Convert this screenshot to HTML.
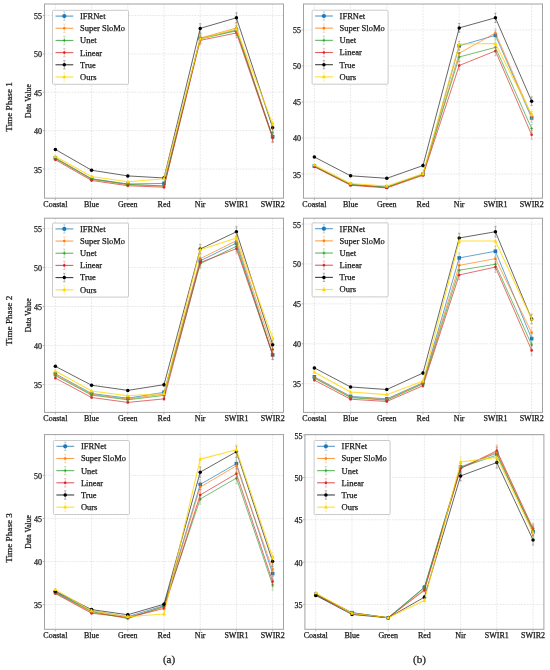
<!DOCTYPE html><html><head><meta charset="utf-8"><style>html,body{margin:0;padding:0;background:#fff;width:550px;height:670px;overflow:hidden}svg{display:block;will-change:transform;filter:blur(0.3px)}text{font-family:"Liberation Serif",serif;fill:#1a1a1a;stroke:#1a1a1a;stroke-width:0.25px}</style></head><body>
<svg width="550" height="670" viewBox="0 0 550 670">
<rect width="550" height="670" fill="#fff"/>
<path d="M55.36 4V198.2M91.58 4V198.2M127.79 4V198.2M164 4V198.2M200.21 4V198.2M236.42 4V198.2M272.64 4V198.2M44.5 169H283.5M44.5 130.62H283.5M44.5 92.25H283.5M44.5 53.88H283.5M44.5 15.5H283.5" stroke="#d6d6d6" stroke-width="0.6" stroke-dasharray="1.8,1.2" fill="none"/>
<polyline points="55.36,157.87 91.58,178.75 127.79,183.97 164,183.43 200.21,38.53 236.42,30.08 272.64,136.61" stroke="#1f77b4" stroke-width="0.9" stroke-opacity="0.75" fill="none" stroke-linejoin="round"/>
<g stroke="#1f77b4" stroke-width="0.7" opacity="0.42" fill="none"><path d="M55.36 156.95V158.79"/><path d="M54.16 156.95h2.4M54.16 158.79h2.4"/></g>
<rect x="53.56" y="156.07" width="3.6" height="3.6" fill="#1f77b4"/>
<g stroke="#1f77b4" stroke-width="0.7" opacity="0.42" fill="none"><path d="M91.58 177.83V179.67"/><path d="M90.38 177.83h2.4M90.38 179.67h2.4"/></g>
<rect x="89.78" y="176.95" width="3.6" height="3.6" fill="#1f77b4"/>
<g stroke="#1f77b4" stroke-width="0.7" opacity="0.42" fill="none"><path d="M127.79 183.05V184.89"/><path d="M126.59 183.05h2.4M126.59 184.89h2.4"/></g>
<rect x="125.99" y="182.17" width="3.6" height="3.6" fill="#1f77b4"/>
<g stroke="#1f77b4" stroke-width="0.7" opacity="0.42" fill="none"><path d="M164 181.89V184.96"/><path d="M162.8 181.89h2.4M162.8 184.96h2.4"/></g>
<rect x="162.2" y="181.63" width="3.6" height="3.6" fill="#1f77b4"/>
<g stroke="#1f77b4" stroke-width="0.7" opacity="0.42" fill="none"><path d="M200.21 33.92V43.13"/><path d="M199.01 33.92h2.4M199.01 43.13h2.4"/></g>
<rect x="198.41" y="36.73" width="3.6" height="3.6" fill="#1f77b4"/>
<g stroke="#1f77b4" stroke-width="0.7" opacity="0.42" fill="none"><path d="M236.42 25.09V35.07"/><path d="M235.22 25.09h2.4M235.22 35.07h2.4"/></g>
<rect x="234.62" y="28.28" width="3.6" height="3.6" fill="#1f77b4"/>
<g stroke="#1f77b4" stroke-width="0.7" opacity="0.42" fill="none"><path d="M272.64 132.01V141.22"/><path d="M271.44 132.01h2.4M271.44 141.22h2.4"/></g>
<rect x="270.84" y="134.81" width="3.6" height="3.6" fill="#1f77b4"/>
<polyline points="55.36,158.26 91.58,179.36 127.79,184.73 164,186.04 200.21,38.14 236.42,28.01 272.64,137.53" stroke="#ff7f0e" stroke-width="0.9" stroke-opacity="0.75" fill="none" stroke-linejoin="round"/>
<g stroke="#ff7f0e" stroke-width="0.7" opacity="0.42" fill="none"><path d="M55.36 157.33V159.18"/><path d="M54.16 157.33h2.4M54.16 159.18h2.4"/></g>
<circle cx="55.36" cy="158.26" r="1.3" fill="#ff7f0e"/>
<g stroke="#ff7f0e" stroke-width="0.7" opacity="0.42" fill="none"><path d="M91.58 178.44V180.28"/><path d="M90.38 178.44h2.4M90.38 180.28h2.4"/></g>
<circle cx="91.58" cy="179.36" r="1.3" fill="#ff7f0e"/>
<g stroke="#ff7f0e" stroke-width="0.7" opacity="0.42" fill="none"><path d="M127.79 183.81V185.65"/><path d="M126.59 183.81h2.4M126.59 185.65h2.4"/></g>
<circle cx="127.79" cy="184.73" r="1.3" fill="#ff7f0e"/>
<g stroke="#ff7f0e" stroke-width="0.7" opacity="0.42" fill="none"><path d="M164 184.5V187.57"/><path d="M162.8 184.5h2.4M162.8 187.57h2.4"/></g>
<circle cx="164" cy="186.04" r="1.3" fill="#ff7f0e"/>
<g stroke="#ff7f0e" stroke-width="0.7" opacity="0.42" fill="none"><path d="M200.21 33.54V42.75"/><path d="M199.01 33.54h2.4M199.01 42.75h2.4"/></g>
<circle cx="200.21" cy="38.14" r="1.3" fill="#ff7f0e"/>
<g stroke="#ff7f0e" stroke-width="0.7" opacity="0.42" fill="none"><path d="M236.42 23.02V33"/><path d="M235.22 23.02h2.4M235.22 33h2.4"/></g>
<circle cx="236.42" cy="28.01" r="1.3" fill="#ff7f0e"/>
<g stroke="#ff7f0e" stroke-width="0.7" opacity="0.42" fill="none"><path d="M272.64 132.93V142.14"/><path d="M271.44 132.93h2.4M271.44 142.14h2.4"/></g>
<circle cx="272.64" cy="137.53" r="1.3" fill="#ff7f0e"/>
<polyline points="55.36,158.64 91.58,178.98 127.79,184.35 164,185.89 200.21,38.91 236.42,30.85 272.64,137.15" stroke="#2ca02c" stroke-width="0.9" stroke-opacity="0.75" fill="none" stroke-linejoin="round"/>
<g stroke="#2ca02c" stroke-width="0.7" opacity="0.42" fill="none"><path d="M55.36 157.72V159.56"/><path d="M54.16 157.72h2.4M54.16 159.56h2.4"/></g>
<path d="M53.86 158.64h3M55.36 157.14v3" stroke="#2ca02c" stroke-width="0.8" fill="none"/>
<g stroke="#2ca02c" stroke-width="0.7" opacity="0.42" fill="none"><path d="M91.58 178.06V179.9"/><path d="M90.38 178.06h2.4M90.38 179.9h2.4"/></g>
<path d="M90.08 178.98h3M91.58 177.48v3" stroke="#2ca02c" stroke-width="0.8" fill="none"/>
<g stroke="#2ca02c" stroke-width="0.7" opacity="0.42" fill="none"><path d="M127.79 183.43V185.27"/><path d="M126.59 183.43h2.4M126.59 185.27h2.4"/></g>
<path d="M126.29 184.35h3M127.79 182.85v3" stroke="#2ca02c" stroke-width="0.8" fill="none"/>
<g stroke="#2ca02c" stroke-width="0.7" opacity="0.42" fill="none"><path d="M164 184.35V187.42"/><path d="M162.8 184.35h2.4M162.8 187.42h2.4"/></g>
<path d="M162.5 185.89h3M164 184.39v3" stroke="#2ca02c" stroke-width="0.8" fill="none"/>
<g stroke="#2ca02c" stroke-width="0.7" opacity="0.42" fill="none"><path d="M200.21 34.3V43.51"/><path d="M199.01 34.3h2.4M199.01 43.51h2.4"/></g>
<path d="M198.71 38.91h3M200.21 37.41v3" stroke="#2ca02c" stroke-width="0.8" fill="none"/>
<g stroke="#2ca02c" stroke-width="0.7" opacity="0.42" fill="none"><path d="M236.42 25.86V35.84"/><path d="M235.22 25.86h2.4M235.22 35.84h2.4"/></g>
<path d="M234.92 30.85h3M236.42 29.35v3" stroke="#2ca02c" stroke-width="0.8" fill="none"/>
<g stroke="#2ca02c" stroke-width="0.7" opacity="0.42" fill="none"><path d="M272.64 132.54V141.75"/><path d="M271.44 132.54h2.4M271.44 141.75h2.4"/></g>
<path d="M271.14 137.15h3M272.64 135.65v3" stroke="#2ca02c" stroke-width="0.8" fill="none"/>
<polyline points="55.36,159.79 91.58,180.51 127.79,185.73 164,187.19 200.21,40.37 236.42,33 272.64,137.99" stroke="#d62728" stroke-width="0.9" stroke-opacity="0.75" fill="none" stroke-linejoin="round"/>
<g stroke="#d62728" stroke-width="0.7" opacity="0.42" fill="none"><path d="M55.36 158.87V160.71"/><path d="M54.16 158.87h2.4M54.16 160.71h2.4"/></g>
<circle cx="55.36" cy="159.79" r="1.3" fill="#d62728"/>
<g stroke="#d62728" stroke-width="0.7" opacity="0.42" fill="none"><path d="M91.58 179.59V181.43"/><path d="M90.38 179.59h2.4M90.38 181.43h2.4"/></g>
<circle cx="91.58" cy="180.51" r="1.3" fill="#d62728"/>
<g stroke="#d62728" stroke-width="0.7" opacity="0.42" fill="none"><path d="M127.79 184.81V186.65"/><path d="M126.59 184.81h2.4M126.59 186.65h2.4"/></g>
<circle cx="127.79" cy="185.73" r="1.3" fill="#d62728"/>
<g stroke="#d62728" stroke-width="0.7" opacity="0.42" fill="none"><path d="M164 185.65V188.72"/><path d="M162.8 185.65h2.4M162.8 188.72h2.4"/></g>
<circle cx="164" cy="187.19" r="1.3" fill="#d62728"/>
<g stroke="#d62728" stroke-width="0.7" opacity="0.42" fill="none"><path d="M200.21 35.76V44.97"/><path d="M199.01 35.76h2.4M199.01 44.97h2.4"/></g>
<circle cx="200.21" cy="40.37" r="1.3" fill="#d62728"/>
<g stroke="#d62728" stroke-width="0.7" opacity="0.42" fill="none"><path d="M236.42 28.01V37.99"/><path d="M235.22 28.01h2.4M235.22 37.99h2.4"/></g>
<circle cx="236.42" cy="33" r="1.3" fill="#d62728"/>
<g stroke="#d62728" stroke-width="0.7" opacity="0.42" fill="none"><path d="M272.64 133.39V142.6"/><path d="M271.44 133.39h2.4M271.44 142.6h2.4"/></g>
<circle cx="272.64" cy="137.99" r="1.3" fill="#d62728"/>
<polyline points="55.36,149.43 91.58,170.23 127.79,175.91 164,177.98 200.21,28.39 236.42,17.8 272.64,127.63" stroke="#000000" stroke-width="0.75" stroke-opacity="0.8" fill="none" stroke-linejoin="round"/>
<g stroke="#000000" stroke-width="0.7" opacity="0.42" fill="none"><path d="M55.36 148.51V150.35"/><path d="M54.16 148.51h2.4M54.16 150.35h2.4"/></g>
<circle cx="55.36" cy="149.43" r="1.75" fill="#000000"/>
<g stroke="#000000" stroke-width="0.7" opacity="0.42" fill="none"><path d="M91.58 169.31V171.15"/><path d="M90.38 169.31h2.4M90.38 171.15h2.4"/></g>
<circle cx="91.58" cy="170.23" r="1.75" fill="#000000"/>
<g stroke="#000000" stroke-width="0.7" opacity="0.42" fill="none"><path d="M127.79 174.99V176.83"/><path d="M126.59 174.99h2.4M126.59 176.83h2.4"/></g>
<circle cx="127.79" cy="175.91" r="1.75" fill="#000000"/>
<g stroke="#000000" stroke-width="0.7" opacity="0.42" fill="none"><path d="M164 176.44V179.51"/><path d="M162.8 176.44h2.4M162.8 179.51h2.4"/></g>
<circle cx="164" cy="177.98" r="1.75" fill="#000000"/>
<g stroke="#000000" stroke-width="0.7" opacity="0.42" fill="none"><path d="M200.21 23.79V33"/><path d="M199.01 23.79h2.4M199.01 33h2.4"/></g>
<circle cx="200.21" cy="28.39" r="1.75" fill="#000000"/>
<g stroke="#000000" stroke-width="0.7" opacity="0.42" fill="none"><path d="M236.42 12.81V22.79"/><path d="M235.22 12.81h2.4M235.22 22.79h2.4"/></g>
<circle cx="236.42" cy="17.8" r="1.75" fill="#000000"/>
<g stroke="#000000" stroke-width="0.7" opacity="0.42" fill="none"><path d="M272.64 123.03V132.24"/><path d="M271.44 123.03h2.4M271.44 132.24h2.4"/></g>
<circle cx="272.64" cy="127.63" r="1.75" fill="#000000"/>
<polyline points="55.36,156.49 91.58,176.52 127.79,181.82 164,178.67 200.21,38.99 236.42,29.01 272.64,123.87" stroke="#ffd700" stroke-width="1.05" stroke-opacity="0.8" fill="none" stroke-linejoin="round"/>
<g stroke="#ffd700" stroke-width="0.7" opacity="0.42" fill="none"><path d="M55.36 155.57V157.41"/><path d="M54.16 155.57h2.4M54.16 157.41h2.4"/></g>
<path d="M55.36 154.29L57.26 157.89H53.46Z" fill="#ffd700" fill-opacity="0.95"/>
<g stroke="#ffd700" stroke-width="0.7" opacity="0.42" fill="none"><path d="M91.58 175.6V177.44"/><path d="M90.38 175.6h2.4M90.38 177.44h2.4"/></g>
<path d="M91.58 174.32L93.48 177.92H89.68Z" fill="#ffd700" fill-opacity="0.95"/>
<g stroke="#ffd700" stroke-width="0.7" opacity="0.42" fill="none"><path d="M127.79 180.9V182.74"/><path d="M126.59 180.9h2.4M126.59 182.74h2.4"/></g>
<path d="M127.79 179.62L129.69 183.22H125.89Z" fill="#ffd700" fill-opacity="0.95"/>
<g stroke="#ffd700" stroke-width="0.7" opacity="0.42" fill="none"><path d="M164 177.14V180.21"/><path d="M162.8 177.14h2.4M162.8 180.21h2.4"/></g>
<path d="M164 176.47L165.9 180.07H162.1Z" fill="#ffd700" fill-opacity="0.95"/>
<g stroke="#ffd700" stroke-width="0.7" opacity="0.42" fill="none"><path d="M200.21 34.38V43.59"/><path d="M199.01 34.38h2.4M199.01 43.59h2.4"/></g>
<path d="M200.21 36.79L202.11 40.39H198.31Z" fill="#ffd700" fill-opacity="0.95"/>
<g stroke="#ffd700" stroke-width="0.7" opacity="0.42" fill="none"><path d="M236.42 24.02V34"/><path d="M235.22 24.02h2.4M235.22 34h2.4"/></g>
<path d="M236.42 26.81L238.32 30.41H234.52Z" fill="#ffd700" fill-opacity="0.95"/>
<g stroke="#ffd700" stroke-width="0.7" opacity="0.42" fill="none"><path d="M272.64 119.27V128.48"/><path d="M271.44 119.27h2.4M271.44 128.48h2.4"/></g>
<path d="M272.64 121.67L274.54 125.27H270.74Z" fill="#ffd700" fill-opacity="0.95"/>
<rect x="44.5" y="4" width="239" height="194.2" stroke="#a2a2a2" stroke-width="1" fill="none"/>
<text x="42.1" y="172.5" font-size="8.0" text-anchor="end">35</text>
<text x="42.1" y="134.12" font-size="8.0" text-anchor="end">40</text>
<text x="42.1" y="95.75" font-size="8.0" text-anchor="end">45</text>
<text x="42.1" y="57.38" font-size="8.0" text-anchor="end">50</text>
<text x="42.1" y="19" font-size="8.0" text-anchor="end">55</text>
<text x="55.36" y="206.6" font-size="8.0" text-anchor="middle">Coastal</text>
<text x="91.58" y="206.6" font-size="8.0" text-anchor="middle">Blue</text>
<text x="127.79" y="206.6" font-size="8.0" text-anchor="middle">Green</text>
<text x="164" y="206.6" font-size="8.0" text-anchor="middle">Red</text>
<text x="200.21" y="206.6" font-size="8.0" text-anchor="middle">Nir</text>
<text x="236.42" y="206.6" font-size="8.0" text-anchor="middle">SWIR1</text>
<text x="272.64" y="206.6" font-size="8.0" text-anchor="middle">SWIR2</text>
<path d="M42.7 169H44.5M42.7 130.62H44.5M42.7 92.25H44.5M42.7 53.88H44.5M42.7 15.5H44.5M55.36 198.2V200.2M91.58 198.2V200.2M127.79 198.2V200.2M164 198.2V200.2M200.21 198.2V200.2M236.42 198.2V200.2M272.64 198.2V200.2" stroke="#a2a2a2" stroke-width="0.8" fill="none"/>
<text transform="translate(31 101.1) rotate(-90)" font-size="7.7" text-anchor="middle">Data Value</text>
<rect x="52.5" y="10.3" width="76" height="74" rx="1" fill="#fff" stroke="#c4c4c4" stroke-width="0.9"/>
<path d="M55.5 16.1H73.3" stroke="#1f77b4" stroke-width="1.1" stroke-opacity="0.75"/>
<g stroke="#1f77b4" stroke-width="0.7" opacity="0.42" fill="none"><path d="M64.3 11.9V20.3"/><path d="M63.1 11.9h2.4M63.1 20.3h2.4"/></g>
<circle cx="64.3" cy="16.1" r="2.1" fill="#1f77b4"/>
<text x="80" y="19" font-size="8.5">IFRNet</text>
<path d="M55.5 28.27H73.3" stroke="#ff7f0e" stroke-width="1.1" stroke-opacity="0.75"/>
<g stroke="#ff7f0e" stroke-width="0.7" opacity="0.42" fill="none"><path d="M64.3 24.07V32.47"/><path d="M63.1 24.07h2.4M63.1 32.47h2.4"/></g>
<circle cx="64.3" cy="28.27" r="1.3" fill="#ff7f0e"/>
<text x="80" y="31.17" font-size="8.5">Super SloMo</text>
<path d="M55.5 40.44H73.3" stroke="#2ca02c" stroke-width="1.1" stroke-opacity="0.75"/>
<g stroke="#2ca02c" stroke-width="0.7" opacity="0.42" fill="none"><path d="M64.3 36.24V44.64"/><path d="M63.1 36.24h2.4M63.1 44.64h2.4"/></g>
<path d="M62.8 40.44h3M64.3 38.94v3" stroke="#2ca02c" stroke-width="0.8" fill="none"/>
<text x="80" y="43.34" font-size="8.5">Unet</text>
<path d="M55.5 52.61H73.3" stroke="#d62728" stroke-width="1.1" stroke-opacity="0.75"/>
<g stroke="#d62728" stroke-width="0.7" opacity="0.42" fill="none"><path d="M64.3 48.41V56.81"/><path d="M63.1 48.41h2.4M63.1 56.81h2.4"/></g>
<circle cx="64.3" cy="52.61" r="1.3" fill="#d62728"/>
<text x="80" y="55.51" font-size="8.5">Linear</text>
<path d="M55.5 64.78H73.3" stroke="#000000" stroke-width="1.1" stroke-opacity="0.75"/>
<g stroke="#000000" stroke-width="0.7" opacity="0.42" fill="none"><path d="M64.3 60.58V68.98"/><path d="M63.1 60.58h2.4M63.1 68.98h2.4"/></g>
<circle cx="64.3" cy="64.78" r="1.75" fill="#000000"/>
<text x="80" y="67.68" font-size="8.5">True</text>
<path d="M55.5 76.95H73.3" stroke="#ffd700" stroke-width="1.2" stroke-opacity="0.75"/>
<g stroke="#ffd700" stroke-width="0.7" opacity="0.42" fill="none"><path d="M64.3 72.75V81.15"/><path d="M63.1 72.75h2.4M63.1 81.15h2.4"/></g>
<path d="M64.3 74.75L66.2 78.35H62.4Z" fill="#ffd700" fill-opacity="0.95"/>
<text x="80" y="79.85" font-size="8.5">Ours</text>
<path d="M314.36 4V198.2M350.58 4V198.2M386.79 4V198.2M423 4V198.2M459.21 4V198.2M495.42 4V198.2M531.64 4V198.2M303.5 174H542.5M303.5 137.97H542.5M303.5 101.95H542.5M303.5 65.92H542.5M303.5 29.9H542.5" stroke="#d6d6d6" stroke-width="0.6" stroke-dasharray="1.8,1.2" fill="none"/>
<polyline points="314.36,166.07 350.58,184.45 386.79,186.97 423,174.36 459.21,45.82 495.42,35.3 531.64,117.95" stroke="#1f77b4" stroke-width="0.9" stroke-opacity="0.75" fill="none" stroke-linejoin="round"/>
<g stroke="#1f77b4" stroke-width="0.7" opacity="0.42" fill="none"><path d="M314.36 165.21V166.94"/><path d="M313.16 165.21h2.4M313.16 166.94h2.4"/></g>
<rect x="312.56" y="164.27" width="3.6" height="3.6" fill="#1f77b4"/>
<g stroke="#1f77b4" stroke-width="0.7" opacity="0.42" fill="none"><path d="M350.58 183.58V185.31"/><path d="M349.38 183.58h2.4M349.38 185.31h2.4"/></g>
<rect x="348.78" y="182.65" width="3.6" height="3.6" fill="#1f77b4"/>
<g stroke="#1f77b4" stroke-width="0.7" opacity="0.42" fill="none"><path d="M386.79 186.1V187.83"/><path d="M385.59 186.1h2.4M385.59 187.83h2.4"/></g>
<rect x="384.99" y="185.17" width="3.6" height="3.6" fill="#1f77b4"/>
<g stroke="#1f77b4" stroke-width="0.7" opacity="0.42" fill="none"><path d="M423 172.92V175.8"/><path d="M421.8 172.92h2.4M421.8 175.8h2.4"/></g>
<rect x="421.2" y="172.56" width="3.6" height="3.6" fill="#1f77b4"/>
<g stroke="#1f77b4" stroke-width="0.7" opacity="0.42" fill="none"><path d="M459.21 41.5V50.15"/><path d="M458.01 41.5h2.4M458.01 50.15h2.4"/></g>
<rect x="457.41" y="44.02" width="3.6" height="3.6" fill="#1f77b4"/>
<g stroke="#1f77b4" stroke-width="0.7" opacity="0.42" fill="none"><path d="M495.42 30.62V39.99"/><path d="M494.22 30.62h2.4M494.22 39.99h2.4"/></g>
<rect x="493.62" y="33.5" width="3.6" height="3.6" fill="#1f77b4"/>
<g stroke="#1f77b4" stroke-width="0.7" opacity="0.42" fill="none"><path d="M531.64 113.62V122.27"/><path d="M530.44 113.62h2.4M530.44 122.27h2.4"/></g>
<rect x="529.84" y="116.15" width="3.6" height="3.6" fill="#1f77b4"/>
<polyline points="314.36,166.43 350.58,184.81 386.79,187.33 423,174.72 459.21,53.24 495.42,33 531.64,115.93" stroke="#ff7f0e" stroke-width="0.9" stroke-opacity="0.75" fill="none" stroke-linejoin="round"/>
<g stroke="#ff7f0e" stroke-width="0.7" opacity="0.42" fill="none"><path d="M314.36 165.57V167.3"/><path d="M313.16 165.57h2.4M313.16 167.3h2.4"/></g>
<circle cx="314.36" cy="166.43" r="1.3" fill="#ff7f0e"/>
<g stroke="#ff7f0e" stroke-width="0.7" opacity="0.42" fill="none"><path d="M350.58 183.94V185.67"/><path d="M349.38 183.94h2.4M349.38 185.67h2.4"/></g>
<circle cx="350.58" cy="184.81" r="1.3" fill="#ff7f0e"/>
<g stroke="#ff7f0e" stroke-width="0.7" opacity="0.42" fill="none"><path d="M386.79 186.46V188.19"/><path d="M385.59 186.46h2.4M385.59 188.19h2.4"/></g>
<circle cx="386.79" cy="187.33" r="1.3" fill="#ff7f0e"/>
<g stroke="#ff7f0e" stroke-width="0.7" opacity="0.42" fill="none"><path d="M423 173.28V176.16"/><path d="M421.8 173.28h2.4M421.8 176.16h2.4"/></g>
<circle cx="423" cy="174.72" r="1.3" fill="#ff7f0e"/>
<g stroke="#ff7f0e" stroke-width="0.7" opacity="0.42" fill="none"><path d="M459.21 48.92V57.57"/><path d="M458.01 48.92h2.4M458.01 57.57h2.4"/></g>
<circle cx="459.21" cy="53.24" r="1.3" fill="#ff7f0e"/>
<g stroke="#ff7f0e" stroke-width="0.7" opacity="0.42" fill="none"><path d="M495.42 28.31V37.68"/><path d="M494.22 28.31h2.4M494.22 37.68h2.4"/></g>
<circle cx="495.42" cy="33" r="1.3" fill="#ff7f0e"/>
<g stroke="#ff7f0e" stroke-width="0.7" opacity="0.42" fill="none"><path d="M531.64 111.6V120.25"/><path d="M530.44 111.6h2.4M530.44 120.25h2.4"/></g>
<circle cx="531.64" cy="115.93" r="1.3" fill="#ff7f0e"/>
<polyline points="314.36,166.07 350.58,184.45 386.79,187.33 423,174 459.21,56.99 495.42,47.41 531.64,128.61" stroke="#2ca02c" stroke-width="0.9" stroke-opacity="0.75" fill="none" stroke-linejoin="round"/>
<g stroke="#2ca02c" stroke-width="0.7" opacity="0.42" fill="none"><path d="M314.36 165.21V166.94"/><path d="M313.16 165.21h2.4M313.16 166.94h2.4"/></g>
<path d="M312.86 166.07h3M314.36 164.57v3" stroke="#2ca02c" stroke-width="0.8" fill="none"/>
<g stroke="#2ca02c" stroke-width="0.7" opacity="0.42" fill="none"><path d="M350.58 183.58V185.31"/><path d="M349.38 183.58h2.4M349.38 185.31h2.4"/></g>
<path d="M349.08 184.45h3M350.58 182.95v3" stroke="#2ca02c" stroke-width="0.8" fill="none"/>
<g stroke="#2ca02c" stroke-width="0.7" opacity="0.42" fill="none"><path d="M386.79 186.46V188.19"/><path d="M385.59 186.46h2.4M385.59 188.19h2.4"/></g>
<path d="M385.29 187.33h3M386.79 185.83v3" stroke="#2ca02c" stroke-width="0.8" fill="none"/>
<g stroke="#2ca02c" stroke-width="0.7" opacity="0.42" fill="none"><path d="M423 172.56V175.44"/><path d="M421.8 172.56h2.4M421.8 175.44h2.4"/></g>
<path d="M421.5 174h3M423 172.5v3" stroke="#2ca02c" stroke-width="0.8" fill="none"/>
<g stroke="#2ca02c" stroke-width="0.7" opacity="0.42" fill="none"><path d="M459.21 52.67V61.31"/><path d="M458.01 52.67h2.4M458.01 61.31h2.4"/></g>
<path d="M457.71 56.99h3M459.21 55.49v3" stroke="#2ca02c" stroke-width="0.8" fill="none"/>
<g stroke="#2ca02c" stroke-width="0.7" opacity="0.42" fill="none"><path d="M495.42 42.72V52.09"/><path d="M494.22 42.72h2.4M494.22 52.09h2.4"/></g>
<path d="M493.92 47.41h3M495.42 45.91v3" stroke="#2ca02c" stroke-width="0.8" fill="none"/>
<g stroke="#2ca02c" stroke-width="0.7" opacity="0.42" fill="none"><path d="M531.64 124.29V132.93"/><path d="M530.44 124.29h2.4M530.44 132.93h2.4"/></g>
<path d="M530.14 128.61h3M531.64 127.11v3" stroke="#2ca02c" stroke-width="0.8" fill="none"/>
<polyline points="314.36,166.87 350.58,185.24 386.79,187.98 423,175.3 459.21,65.49 495.42,50.94 531.64,134.8" stroke="#d62728" stroke-width="0.9" stroke-opacity="0.75" fill="none" stroke-linejoin="round"/>
<g stroke="#d62728" stroke-width="0.7" opacity="0.42" fill="none"><path d="M314.36 166V167.73"/><path d="M313.16 166h2.4M313.16 167.73h2.4"/></g>
<circle cx="314.36" cy="166.87" r="1.3" fill="#d62728"/>
<g stroke="#d62728" stroke-width="0.7" opacity="0.42" fill="none"><path d="M350.58 184.38V186.1"/><path d="M349.38 184.38h2.4M349.38 186.1h2.4"/></g>
<circle cx="350.58" cy="185.24" r="1.3" fill="#d62728"/>
<g stroke="#d62728" stroke-width="0.7" opacity="0.42" fill="none"><path d="M386.79 187.11V188.84"/><path d="M385.59 187.11h2.4M385.59 188.84h2.4"/></g>
<circle cx="386.79" cy="187.98" r="1.3" fill="#d62728"/>
<g stroke="#d62728" stroke-width="0.7" opacity="0.42" fill="none"><path d="M423 173.86V176.74"/><path d="M421.8 173.86h2.4M421.8 176.74h2.4"/></g>
<circle cx="423" cy="175.3" r="1.3" fill="#d62728"/>
<g stroke="#d62728" stroke-width="0.7" opacity="0.42" fill="none"><path d="M459.21 61.17V69.82"/><path d="M458.01 61.17h2.4M458.01 69.82h2.4"/></g>
<circle cx="459.21" cy="65.49" r="1.3" fill="#d62728"/>
<g stroke="#d62728" stroke-width="0.7" opacity="0.42" fill="none"><path d="M495.42 46.26V55.62"/><path d="M494.22 46.26h2.4M494.22 55.62h2.4"/></g>
<circle cx="495.42" cy="50.94" r="1.3" fill="#d62728"/>
<g stroke="#d62728" stroke-width="0.7" opacity="0.42" fill="none"><path d="M531.64 130.48V139.13"/><path d="M530.44 130.48h2.4M530.44 139.13h2.4"/></g>
<circle cx="531.64" cy="134.8" r="1.3" fill="#d62728"/>
<polyline points="314.36,157 350.58,175.8 386.79,178.32 423,165.57 459.21,27.88 495.42,17.8 531.64,101.16" stroke="#000000" stroke-width="0.75" stroke-opacity="0.8" fill="none" stroke-linejoin="round"/>
<g stroke="#000000" stroke-width="0.7" opacity="0.42" fill="none"><path d="M314.36 156.13V157.86"/><path d="M313.16 156.13h2.4M313.16 157.86h2.4"/></g>
<circle cx="314.36" cy="157" r="1.75" fill="#000000"/>
<g stroke="#000000" stroke-width="0.7" opacity="0.42" fill="none"><path d="M350.58 174.94V176.67"/><path d="M349.38 174.94h2.4M349.38 176.67h2.4"/></g>
<circle cx="350.58" cy="175.8" r="1.75" fill="#000000"/>
<g stroke="#000000" stroke-width="0.7" opacity="0.42" fill="none"><path d="M386.79 177.46V179.19"/><path d="M385.59 177.46h2.4M385.59 179.19h2.4"/></g>
<circle cx="386.79" cy="178.32" r="1.75" fill="#000000"/>
<g stroke="#000000" stroke-width="0.7" opacity="0.42" fill="none"><path d="M423 164.13V167.01"/><path d="M421.8 164.13h2.4M421.8 167.01h2.4"/></g>
<circle cx="423" cy="165.57" r="1.75" fill="#000000"/>
<g stroke="#000000" stroke-width="0.7" opacity="0.42" fill="none"><path d="M459.21 23.56V32.21"/><path d="M458.01 23.56h2.4M458.01 32.21h2.4"/></g>
<circle cx="459.21" cy="27.88" r="1.75" fill="#000000"/>
<g stroke="#000000" stroke-width="0.7" opacity="0.42" fill="none"><path d="M495.42 13.11V22.48"/><path d="M494.22 13.11h2.4M494.22 22.48h2.4"/></g>
<circle cx="495.42" cy="17.8" r="1.75" fill="#000000"/>
<g stroke="#000000" stroke-width="0.7" opacity="0.42" fill="none"><path d="M531.64 96.83V105.48"/><path d="M530.44 96.83h2.4M530.44 105.48h2.4"/></g>
<circle cx="531.64" cy="101.16" r="1.75" fill="#000000"/>
<polyline points="314.36,164.92 350.58,183.44 386.79,186.03 423,173.78 459.21,44.02 495.42,43.59 531.64,114.56" stroke="#ffd700" stroke-width="1.05" stroke-opacity="0.8" fill="none" stroke-linejoin="round"/>
<g stroke="#ffd700" stroke-width="0.7" opacity="0.42" fill="none"><path d="M314.36 164.06V165.79"/><path d="M313.16 164.06h2.4M313.16 165.79h2.4"/></g>
<path d="M314.36 162.72L316.26 166.32H312.46Z" fill="#ffd700" fill-opacity="0.95"/>
<g stroke="#ffd700" stroke-width="0.7" opacity="0.42" fill="none"><path d="M350.58 182.57V184.3"/><path d="M349.38 182.57h2.4M349.38 184.3h2.4"/></g>
<path d="M350.58 181.24L352.48 184.84H348.68Z" fill="#ffd700" fill-opacity="0.95"/>
<g stroke="#ffd700" stroke-width="0.7" opacity="0.42" fill="none"><path d="M386.79 185.17V186.9"/><path d="M385.59 185.17h2.4M385.59 186.9h2.4"/></g>
<path d="M386.79 183.83L388.69 187.43H384.89Z" fill="#ffd700" fill-opacity="0.95"/>
<g stroke="#ffd700" stroke-width="0.7" opacity="0.42" fill="none"><path d="M423 172.34V175.22"/><path d="M421.8 172.34h2.4M421.8 175.22h2.4"/></g>
<path d="M423 171.58L424.9 175.18H421.1Z" fill="#ffd700" fill-opacity="0.95"/>
<g stroke="#ffd700" stroke-width="0.7" opacity="0.42" fill="none"><path d="M459.21 39.7V48.34"/><path d="M458.01 39.7h2.4M458.01 48.34h2.4"/></g>
<path d="M459.21 41.82L461.11 45.42H457.31Z" fill="#ffd700" fill-opacity="0.95"/>
<g stroke="#ffd700" stroke-width="0.7" opacity="0.42" fill="none"><path d="M495.42 38.91V48.27"/><path d="M494.22 38.91h2.4M494.22 48.27h2.4"/></g>
<path d="M495.42 41.39L497.32 44.99H493.52Z" fill="#ffd700" fill-opacity="0.95"/>
<g stroke="#ffd700" stroke-width="0.7" opacity="0.42" fill="none"><path d="M531.64 110.24V118.88"/><path d="M530.44 110.24h2.4M530.44 118.88h2.4"/></g>
<path d="M531.64 112.36L533.54 115.96H529.74Z" fill="#ffd700" fill-opacity="0.95"/>
<rect x="303.5" y="4" width="239" height="194.2" stroke="#a2a2a2" stroke-width="1" fill="none"/>
<text x="301.1" y="177.5" font-size="8.0" text-anchor="end">35</text>
<text x="301.1" y="141.47" font-size="8.0" text-anchor="end">40</text>
<text x="301.1" y="105.45" font-size="8.0" text-anchor="end">45</text>
<text x="301.1" y="69.42" font-size="8.0" text-anchor="end">50</text>
<text x="301.1" y="33.4" font-size="8.0" text-anchor="end">55</text>
<text x="314.36" y="206.6" font-size="8.0" text-anchor="middle">Coastal</text>
<text x="350.58" y="206.6" font-size="8.0" text-anchor="middle">Blue</text>
<text x="386.79" y="206.6" font-size="8.0" text-anchor="middle">Green</text>
<text x="423" y="206.6" font-size="8.0" text-anchor="middle">Red</text>
<text x="459.21" y="206.6" font-size="8.0" text-anchor="middle">Nir</text>
<text x="495.42" y="206.6" font-size="8.0" text-anchor="middle">SWIR1</text>
<text x="531.64" y="206.6" font-size="8.0" text-anchor="middle">SWIR2</text>
<path d="M301.7 174H303.5M301.7 137.97H303.5M301.7 101.95H303.5M301.7 65.92H303.5M301.7 29.9H303.5M314.36 198.2V200.2M350.58 198.2V200.2M386.79 198.2V200.2M423 198.2V200.2M459.21 198.2V200.2M495.42 198.2V200.2M531.64 198.2V200.2" stroke="#a2a2a2" stroke-width="0.8" fill="none"/>
<rect x="312.1" y="10.2" width="76" height="74" rx="1" fill="#fff" stroke="#c4c4c4" stroke-width="0.9"/>
<path d="M315.1 16H332.9" stroke="#1f77b4" stroke-width="1.1" stroke-opacity="0.75"/>
<g stroke="#1f77b4" stroke-width="0.7" opacity="0.42" fill="none"><path d="M323.9 11.8V20.2"/><path d="M322.7 11.8h2.4M322.7 20.2h2.4"/></g>
<circle cx="323.9" cy="16" r="2.1" fill="#1f77b4"/>
<text x="339.6" y="18.9" font-size="8.5">IFRNet</text>
<path d="M315.1 28.17H332.9" stroke="#ff7f0e" stroke-width="1.1" stroke-opacity="0.75"/>
<g stroke="#ff7f0e" stroke-width="0.7" opacity="0.42" fill="none"><path d="M323.9 23.97V32.37"/><path d="M322.7 23.97h2.4M322.7 32.37h2.4"/></g>
<circle cx="323.9" cy="28.17" r="1.3" fill="#ff7f0e"/>
<text x="339.6" y="31.07" font-size="8.5">Super SloMo</text>
<path d="M315.1 40.34H332.9" stroke="#2ca02c" stroke-width="1.1" stroke-opacity="0.75"/>
<g stroke="#2ca02c" stroke-width="0.7" opacity="0.42" fill="none"><path d="M323.9 36.14V44.54"/><path d="M322.7 36.14h2.4M322.7 44.54h2.4"/></g>
<path d="M322.4 40.34h3M323.9 38.84v3" stroke="#2ca02c" stroke-width="0.8" fill="none"/>
<text x="339.6" y="43.24" font-size="8.5">Unet</text>
<path d="M315.1 52.51H332.9" stroke="#d62728" stroke-width="1.1" stroke-opacity="0.75"/>
<g stroke="#d62728" stroke-width="0.7" opacity="0.42" fill="none"><path d="M323.9 48.31V56.71"/><path d="M322.7 48.31h2.4M322.7 56.71h2.4"/></g>
<circle cx="323.9" cy="52.51" r="1.3" fill="#d62728"/>
<text x="339.6" y="55.41" font-size="8.5">Linear</text>
<path d="M315.1 64.68H332.9" stroke="#000000" stroke-width="1.1" stroke-opacity="0.75"/>
<g stroke="#000000" stroke-width="0.7" opacity="0.42" fill="none"><path d="M323.9 60.48V68.88"/><path d="M322.7 60.48h2.4M322.7 68.88h2.4"/></g>
<circle cx="323.9" cy="64.68" r="1.75" fill="#000000"/>
<text x="339.6" y="67.58" font-size="8.5">True</text>
<path d="M315.1 76.85H332.9" stroke="#ffd700" stroke-width="1.2" stroke-opacity="0.75"/>
<g stroke="#ffd700" stroke-width="0.7" opacity="0.42" fill="none"><path d="M323.9 72.65V81.05"/><path d="M322.7 72.65h2.4M322.7 81.05h2.4"/></g>
<path d="M323.9 74.65L325.8 78.25H322Z" fill="#ffd700" fill-opacity="0.95"/>
<text x="339.6" y="79.75" font-size="8.5">Ours</text>
<path d="M55.36 218.2V412.4M91.58 218.2V412.4M127.79 218.2V412.4M164 218.2V412.4M200.21 218.2V412.4M236.42 218.2V412.4M272.64 218.2V412.4M44.5 384.6H283.5M44.5 345.55H283.5M44.5 306.5H283.5M44.5 267.45H283.5M44.5 228.4H283.5" stroke="#d6d6d6" stroke-width="0.6" stroke-dasharray="1.8,1.2" fill="none"/>
<polyline points="55.36,373.82 91.58,393.5 127.79,398.19 164,392.33 200.21,260.89 236.42,243 272.64,354.92" stroke="#1f77b4" stroke-width="0.9" stroke-opacity="0.75" fill="none" stroke-linejoin="round"/>
<g stroke="#1f77b4" stroke-width="0.7" opacity="0.42" fill="none"><path d="M55.36 372.88V374.76"/><path d="M54.16 372.88h2.4M54.16 374.76h2.4"/></g>
<rect x="53.56" y="372.02" width="3.6" height="3.6" fill="#1f77b4"/>
<g stroke="#1f77b4" stroke-width="0.7" opacity="0.42" fill="none"><path d="M91.58 392.57V394.44"/><path d="M90.38 392.57h2.4M90.38 394.44h2.4"/></g>
<rect x="89.78" y="391.7" width="3.6" height="3.6" fill="#1f77b4"/>
<g stroke="#1f77b4" stroke-width="0.7" opacity="0.42" fill="none"><path d="M127.79 397.25V399.13"/><path d="M126.59 397.25h2.4M126.59 399.13h2.4"/></g>
<rect x="125.99" y="396.39" width="3.6" height="3.6" fill="#1f77b4"/>
<g stroke="#1f77b4" stroke-width="0.7" opacity="0.42" fill="none"><path d="M164 390.77V393.89"/><path d="M162.8 390.77h2.4M162.8 393.89h2.4"/></g>
<rect x="162.2" y="390.53" width="3.6" height="3.6" fill="#1f77b4"/>
<g stroke="#1f77b4" stroke-width="0.7" opacity="0.42" fill="none"><path d="M200.21 256.2V265.58"/><path d="M199.01 256.2h2.4M199.01 265.58h2.4"/></g>
<rect x="198.41" y="259.09" width="3.6" height="3.6" fill="#1f77b4"/>
<g stroke="#1f77b4" stroke-width="0.7" opacity="0.42" fill="none"><path d="M236.42 237.93V248.08"/><path d="M235.22 237.93h2.4M235.22 248.08h2.4"/></g>
<rect x="234.62" y="241.2" width="3.6" height="3.6" fill="#1f77b4"/>
<g stroke="#1f77b4" stroke-width="0.7" opacity="0.42" fill="none"><path d="M272.64 350.24V359.61"/><path d="M271.44 350.24h2.4M271.44 359.61h2.4"/></g>
<rect x="270.84" y="353.12" width="3.6" height="3.6" fill="#1f77b4"/>
<polyline points="55.36,374.84 91.58,394.36 127.79,399.05 164,393.97 200.21,258.7 236.42,240.66 272.64,349.3" stroke="#ff7f0e" stroke-width="0.9" stroke-opacity="0.75" fill="none" stroke-linejoin="round"/>
<g stroke="#ff7f0e" stroke-width="0.7" opacity="0.42" fill="none"><path d="M55.36 373.9V375.77"/><path d="M54.16 373.9h2.4M54.16 375.77h2.4"/></g>
<circle cx="55.36" cy="374.84" r="1.3" fill="#ff7f0e"/>
<g stroke="#ff7f0e" stroke-width="0.7" opacity="0.42" fill="none"><path d="M91.58 393.43V395.3"/><path d="M90.38 393.43h2.4M90.38 395.3h2.4"/></g>
<circle cx="91.58" cy="394.36" r="1.3" fill="#ff7f0e"/>
<g stroke="#ff7f0e" stroke-width="0.7" opacity="0.42" fill="none"><path d="M127.79 398.11V399.99"/><path d="M126.59 398.11h2.4M126.59 399.99h2.4"/></g>
<circle cx="127.79" cy="399.05" r="1.3" fill="#ff7f0e"/>
<g stroke="#ff7f0e" stroke-width="0.7" opacity="0.42" fill="none"><path d="M164 392.41V395.53"/><path d="M162.8 392.41h2.4M162.8 395.53h2.4"/></g>
<circle cx="164" cy="393.97" r="1.3" fill="#ff7f0e"/>
<g stroke="#ff7f0e" stroke-width="0.7" opacity="0.42" fill="none"><path d="M200.21 254.02V263.39"/><path d="M199.01 254.02h2.4M199.01 263.39h2.4"/></g>
<circle cx="200.21" cy="258.7" r="1.3" fill="#ff7f0e"/>
<g stroke="#ff7f0e" stroke-width="0.7" opacity="0.42" fill="none"><path d="M236.42 235.59V245.74"/><path d="M235.22 235.59h2.4M235.22 245.74h2.4"/></g>
<circle cx="236.42" cy="240.66" r="1.3" fill="#ff7f0e"/>
<g stroke="#ff7f0e" stroke-width="0.7" opacity="0.42" fill="none"><path d="M272.64 344.61V353.98"/><path d="M271.44 344.61h2.4M271.44 353.98h2.4"/></g>
<circle cx="272.64" cy="349.3" r="1.3" fill="#ff7f0e"/>
<polyline points="55.36,375.7 91.58,395.07 127.79,399.83 164,395.38 200.21,263.78 236.42,246.28 272.64,354.14" stroke="#2ca02c" stroke-width="0.9" stroke-opacity="0.75" fill="none" stroke-linejoin="round"/>
<g stroke="#2ca02c" stroke-width="0.7" opacity="0.42" fill="none"><path d="M55.36 374.76V376.63"/><path d="M54.16 374.76h2.4M54.16 376.63h2.4"/></g>
<path d="M53.86 375.7h3M55.36 374.2v3" stroke="#2ca02c" stroke-width="0.8" fill="none"/>
<g stroke="#2ca02c" stroke-width="0.7" opacity="0.42" fill="none"><path d="M91.58 394.13V396"/><path d="M90.38 394.13h2.4M90.38 396h2.4"/></g>
<path d="M90.08 395.07h3M91.58 393.57v3" stroke="#2ca02c" stroke-width="0.8" fill="none"/>
<g stroke="#2ca02c" stroke-width="0.7" opacity="0.42" fill="none"><path d="M127.79 398.89V400.77"/><path d="M126.59 398.89h2.4M126.59 400.77h2.4"/></g>
<path d="M126.29 399.83h3M127.79 398.33v3" stroke="#2ca02c" stroke-width="0.8" fill="none"/>
<g stroke="#2ca02c" stroke-width="0.7" opacity="0.42" fill="none"><path d="M164 393.82V396.94"/><path d="M162.8 393.82h2.4M162.8 396.94h2.4"/></g>
<path d="M162.5 395.38h3M164 393.88v3" stroke="#2ca02c" stroke-width="0.8" fill="none"/>
<g stroke="#2ca02c" stroke-width="0.7" opacity="0.42" fill="none"><path d="M200.21 259.09V268.47"/><path d="M199.01 259.09h2.4M199.01 268.47h2.4"/></g>
<path d="M198.71 263.78h3M200.21 262.28v3" stroke="#2ca02c" stroke-width="0.8" fill="none"/>
<g stroke="#2ca02c" stroke-width="0.7" opacity="0.42" fill="none"><path d="M236.42 241.21V251.36"/><path d="M235.22 241.21h2.4M235.22 251.36h2.4"/></g>
<path d="M234.92 246.28h3M236.42 244.78v3" stroke="#2ca02c" stroke-width="0.8" fill="none"/>
<g stroke="#2ca02c" stroke-width="0.7" opacity="0.42" fill="none"><path d="M272.64 349.46V358.83"/><path d="M271.44 349.46h2.4M271.44 358.83h2.4"/></g>
<path d="M271.14 354.14h3M272.64 352.64v3" stroke="#2ca02c" stroke-width="0.8" fill="none"/>
<polyline points="55.36,378.12 91.58,397.49 127.79,402.41 164,398.89 200.21,262.53 236.42,248.63 272.64,354.92" stroke="#d62728" stroke-width="0.9" stroke-opacity="0.75" fill="none" stroke-linejoin="round"/>
<g stroke="#d62728" stroke-width="0.7" opacity="0.42" fill="none"><path d="M55.36 377.18V379.05"/><path d="M54.16 377.18h2.4M54.16 379.05h2.4"/></g>
<circle cx="55.36" cy="378.12" r="1.3" fill="#d62728"/>
<g stroke="#d62728" stroke-width="0.7" opacity="0.42" fill="none"><path d="M91.58 396.55V398.42"/><path d="M90.38 396.55h2.4M90.38 398.42h2.4"/></g>
<circle cx="91.58" cy="397.49" r="1.3" fill="#d62728"/>
<g stroke="#d62728" stroke-width="0.7" opacity="0.42" fill="none"><path d="M127.79 401.47V403.34"/><path d="M126.59 401.47h2.4M126.59 403.34h2.4"/></g>
<circle cx="127.79" cy="402.41" r="1.3" fill="#d62728"/>
<g stroke="#d62728" stroke-width="0.7" opacity="0.42" fill="none"><path d="M164 397.33V400.45"/><path d="M162.8 397.33h2.4M162.8 400.45h2.4"/></g>
<circle cx="164" cy="398.89" r="1.3" fill="#d62728"/>
<g stroke="#d62728" stroke-width="0.7" opacity="0.42" fill="none"><path d="M200.21 257.84V267.22"/><path d="M199.01 257.84h2.4M199.01 267.22h2.4"/></g>
<circle cx="200.21" cy="262.53" r="1.3" fill="#d62728"/>
<g stroke="#d62728" stroke-width="0.7" opacity="0.42" fill="none"><path d="M236.42 243.55V253.7"/><path d="M235.22 243.55h2.4M235.22 253.7h2.4"/></g>
<circle cx="236.42" cy="248.63" r="1.3" fill="#d62728"/>
<g stroke="#d62728" stroke-width="0.7" opacity="0.42" fill="none"><path d="M272.64 350.24V359.61"/><path d="M271.44 350.24h2.4M271.44 359.61h2.4"/></g>
<circle cx="272.64" cy="354.92" r="1.3" fill="#d62728"/>
<polyline points="55.36,366.32 91.58,385.22 127.79,390.38 164,384.68 200.21,249.02 236.42,231.76 272.64,344.77" stroke="#000000" stroke-width="0.75" stroke-opacity="0.8" fill="none" stroke-linejoin="round"/>
<g stroke="#000000" stroke-width="0.7" opacity="0.42" fill="none"><path d="M55.36 365.39V367.26"/><path d="M54.16 365.39h2.4M54.16 367.26h2.4"/></g>
<circle cx="55.36" cy="366.32" r="1.75" fill="#000000"/>
<g stroke="#000000" stroke-width="0.7" opacity="0.42" fill="none"><path d="M91.58 384.29V386.16"/><path d="M90.38 384.29h2.4M90.38 386.16h2.4"/></g>
<circle cx="91.58" cy="385.22" r="1.75" fill="#000000"/>
<g stroke="#000000" stroke-width="0.7" opacity="0.42" fill="none"><path d="M127.79 389.44V391.32"/><path d="M126.59 389.44h2.4M126.59 391.32h2.4"/></g>
<circle cx="127.79" cy="390.38" r="1.75" fill="#000000"/>
<g stroke="#000000" stroke-width="0.7" opacity="0.42" fill="none"><path d="M164 383.12V386.24"/><path d="M162.8 383.12h2.4M162.8 386.24h2.4"/></g>
<circle cx="164" cy="384.68" r="1.75" fill="#000000"/>
<g stroke="#000000" stroke-width="0.7" opacity="0.42" fill="none"><path d="M200.21 244.33V253.7"/><path d="M199.01 244.33h2.4M199.01 253.7h2.4"/></g>
<circle cx="200.21" cy="249.02" r="1.75" fill="#000000"/>
<g stroke="#000000" stroke-width="0.7" opacity="0.42" fill="none"><path d="M236.42 226.68V236.83"/><path d="M235.22 226.68h2.4M235.22 236.83h2.4"/></g>
<circle cx="236.42" cy="231.76" r="1.75" fill="#000000"/>
<g stroke="#000000" stroke-width="0.7" opacity="0.42" fill="none"><path d="M272.64 340.08V349.45"/><path d="M271.44 340.08h2.4M271.44 349.45h2.4"/></g>
<circle cx="272.64" cy="344.77" r="1.75" fill="#000000"/>
<polyline points="55.36,371.01 91.58,391.08 127.79,395.77 164,393.5 200.21,249.72 236.42,238.08 272.64,338.13" stroke="#ffd700" stroke-width="1.05" stroke-opacity="0.8" fill="none" stroke-linejoin="round"/>
<g stroke="#ffd700" stroke-width="0.7" opacity="0.42" fill="none"><path d="M55.36 370.07V371.95"/><path d="M54.16 370.07h2.4M54.16 371.95h2.4"/></g>
<path d="M55.36 368.81L57.26 372.41H53.46Z" fill="#ffd700" fill-opacity="0.95"/>
<g stroke="#ffd700" stroke-width="0.7" opacity="0.42" fill="none"><path d="M91.58 390.15V392.02"/><path d="M90.38 390.15h2.4M90.38 392.02h2.4"/></g>
<path d="M91.58 388.88L93.48 392.48H89.68Z" fill="#ffd700" fill-opacity="0.95"/>
<g stroke="#ffd700" stroke-width="0.7" opacity="0.42" fill="none"><path d="M127.79 394.83V396.71"/><path d="M126.59 394.83h2.4M126.59 396.71h2.4"/></g>
<path d="M127.79 393.57L129.69 397.17H125.89Z" fill="#ffd700" fill-opacity="0.95"/>
<g stroke="#ffd700" stroke-width="0.7" opacity="0.42" fill="none"><path d="M164 391.94V395.07"/><path d="M162.8 391.94h2.4M162.8 395.07h2.4"/></g>
<path d="M164 391.3L165.9 394.9H162.1Z" fill="#ffd700" fill-opacity="0.95"/>
<g stroke="#ffd700" stroke-width="0.7" opacity="0.42" fill="none"><path d="M200.21 245.04V254.41"/><path d="M199.01 245.04h2.4M199.01 254.41h2.4"/></g>
<path d="M200.21 247.52L202.11 251.12H198.31Z" fill="#ffd700" fill-opacity="0.95"/>
<g stroke="#ffd700" stroke-width="0.7" opacity="0.42" fill="none"><path d="M236.42 233.01V243.16"/><path d="M235.22 233.01h2.4M235.22 243.16h2.4"/></g>
<path d="M236.42 235.88L238.32 239.48H234.52Z" fill="#ffd700" fill-opacity="0.95"/>
<g stroke="#ffd700" stroke-width="0.7" opacity="0.42" fill="none"><path d="M272.64 333.44V342.82"/><path d="M271.44 333.44h2.4M271.44 342.82h2.4"/></g>
<path d="M272.64 335.93L274.54 339.53H270.74Z" fill="#ffd700" fill-opacity="0.95"/>
<rect x="44.5" y="218.2" width="239" height="194.2" stroke="#a2a2a2" stroke-width="1" fill="none"/>
<text x="42.1" y="388.1" font-size="8.0" text-anchor="end">35</text>
<text x="42.1" y="349.05" font-size="8.0" text-anchor="end">40</text>
<text x="42.1" y="310" font-size="8.0" text-anchor="end">45</text>
<text x="42.1" y="270.95" font-size="8.0" text-anchor="end">50</text>
<text x="42.1" y="231.9" font-size="8.0" text-anchor="end">55</text>
<text x="55.36" y="420.8" font-size="8.0" text-anchor="middle">Coastal</text>
<text x="91.58" y="420.8" font-size="8.0" text-anchor="middle">Blue</text>
<text x="127.79" y="420.8" font-size="8.0" text-anchor="middle">Green</text>
<text x="164" y="420.8" font-size="8.0" text-anchor="middle">Red</text>
<text x="200.21" y="420.8" font-size="8.0" text-anchor="middle">Nir</text>
<text x="236.42" y="420.8" font-size="8.0" text-anchor="middle">SWIR1</text>
<text x="272.64" y="420.8" font-size="8.0" text-anchor="middle">SWIR2</text>
<path d="M42.7 384.6H44.5M42.7 345.55H44.5M42.7 306.5H44.5M42.7 267.45H44.5M42.7 228.4H44.5M55.36 412.4V414.4M91.58 412.4V414.4M127.79 412.4V414.4M164 412.4V414.4M200.21 412.4V414.4M236.42 412.4V414.4M272.64 412.4V414.4" stroke="#a2a2a2" stroke-width="0.8" fill="none"/>
<text transform="translate(31 315.3) rotate(-90)" font-size="7.7" text-anchor="middle">Data Value</text>
<rect x="52.5" y="223.1" width="76" height="74" rx="1" fill="#fff" stroke="#c4c4c4" stroke-width="0.9"/>
<path d="M55.5 228.9H73.3" stroke="#1f77b4" stroke-width="1.1" stroke-opacity="0.75"/>
<g stroke="#1f77b4" stroke-width="0.7" opacity="0.42" fill="none"><path d="M64.3 224.7V233.1"/><path d="M63.1 224.7h2.4M63.1 233.1h2.4"/></g>
<circle cx="64.3" cy="228.9" r="2.1" fill="#1f77b4"/>
<text x="80" y="231.8" font-size="8.5">IFRNet</text>
<path d="M55.5 241.07H73.3" stroke="#ff7f0e" stroke-width="1.1" stroke-opacity="0.75"/>
<g stroke="#ff7f0e" stroke-width="0.7" opacity="0.42" fill="none"><path d="M64.3 236.87V245.27"/><path d="M63.1 236.87h2.4M63.1 245.27h2.4"/></g>
<circle cx="64.3" cy="241.07" r="1.3" fill="#ff7f0e"/>
<text x="80" y="243.97" font-size="8.5">Super SloMo</text>
<path d="M55.5 253.24H73.3" stroke="#2ca02c" stroke-width="1.1" stroke-opacity="0.75"/>
<g stroke="#2ca02c" stroke-width="0.7" opacity="0.42" fill="none"><path d="M64.3 249.04V257.44"/><path d="M63.1 249.04h2.4M63.1 257.44h2.4"/></g>
<path d="M62.8 253.24h3M64.3 251.74v3" stroke="#2ca02c" stroke-width="0.8" fill="none"/>
<text x="80" y="256.14" font-size="8.5">Unet</text>
<path d="M55.5 265.41H73.3" stroke="#d62728" stroke-width="1.1" stroke-opacity="0.75"/>
<g stroke="#d62728" stroke-width="0.7" opacity="0.42" fill="none"><path d="M64.3 261.21V269.61"/><path d="M63.1 261.21h2.4M63.1 269.61h2.4"/></g>
<circle cx="64.3" cy="265.41" r="1.3" fill="#d62728"/>
<text x="80" y="268.31" font-size="8.5">Linear</text>
<path d="M55.5 277.58H73.3" stroke="#000000" stroke-width="1.1" stroke-opacity="0.75"/>
<g stroke="#000000" stroke-width="0.7" opacity="0.42" fill="none"><path d="M64.3 273.38V281.78"/><path d="M63.1 273.38h2.4M63.1 281.78h2.4"/></g>
<circle cx="64.3" cy="277.58" r="1.75" fill="#000000"/>
<text x="80" y="280.48" font-size="8.5">True</text>
<path d="M55.5 289.75H73.3" stroke="#ffd700" stroke-width="1.2" stroke-opacity="0.75"/>
<g stroke="#ffd700" stroke-width="0.7" opacity="0.42" fill="none"><path d="M64.3 285.55V293.95"/><path d="M63.1 285.55h2.4M63.1 293.95h2.4"/></g>
<path d="M64.3 287.55L66.2 291.15H62.4Z" fill="#ffd700" fill-opacity="0.95"/>
<text x="80" y="292.65" font-size="8.5">Ours</text>
<path d="M314.36 218.2V412.4M350.58 218.2V412.4M386.79 218.2V412.4M423 218.2V412.4M459.21 218.2V412.4M495.42 218.2V412.4M531.64 218.2V412.4M303.5 383.7H542.5M303.5 343.77H542.5M303.5 303.85H542.5M303.5 263.93H542.5M303.5 224H542.5" stroke="#d6d6d6" stroke-width="0.6" stroke-dasharray="1.8,1.2" fill="none"/>
<polyline points="314.36,376.83 350.58,396.4 386.79,398.87 423,382.66 459.21,257.94 495.42,251.23 531.64,338.58" stroke="#1f77b4" stroke-width="0.9" stroke-opacity="0.75" fill="none" stroke-linejoin="round"/>
<g stroke="#1f77b4" stroke-width="0.7" opacity="0.42" fill="none"><path d="M314.36 375.87V377.79"/><path d="M313.16 375.87h2.4M313.16 377.79h2.4"/></g>
<rect x="312.56" y="375.03" width="3.6" height="3.6" fill="#1f77b4"/>
<g stroke="#1f77b4" stroke-width="0.7" opacity="0.42" fill="none"><path d="M350.58 395.44V397.35"/><path d="M349.38 395.44h2.4M349.38 397.35h2.4"/></g>
<rect x="348.78" y="394.6" width="3.6" height="3.6" fill="#1f77b4"/>
<g stroke="#1f77b4" stroke-width="0.7" opacity="0.42" fill="none"><path d="M386.79 397.91V399.83"/><path d="M385.59 397.91h2.4M385.59 399.83h2.4"/></g>
<rect x="384.99" y="397.07" width="3.6" height="3.6" fill="#1f77b4"/>
<g stroke="#1f77b4" stroke-width="0.7" opacity="0.42" fill="none"><path d="M423 381.06V384.26"/><path d="M421.8 381.06h2.4M421.8 384.26h2.4"/></g>
<rect x="421.2" y="380.86" width="3.6" height="3.6" fill="#1f77b4"/>
<g stroke="#1f77b4" stroke-width="0.7" opacity="0.42" fill="none"><path d="M459.21 253.15V262.73"/><path d="M458.01 253.15h2.4M458.01 262.73h2.4"/></g>
<rect x="457.41" y="256.14" width="3.6" height="3.6" fill="#1f77b4"/>
<g stroke="#1f77b4" stroke-width="0.7" opacity="0.42" fill="none"><path d="M495.42 246.04V256.42"/><path d="M494.22 246.04h2.4M494.22 256.42h2.4"/></g>
<rect x="493.62" y="249.43" width="3.6" height="3.6" fill="#1f77b4"/>
<g stroke="#1f77b4" stroke-width="0.7" opacity="0.42" fill="none"><path d="M531.64 333.79V343.38"/><path d="M530.44 333.79h2.4M530.44 343.38h2.4"/></g>
<rect x="529.84" y="336.78" width="3.6" height="3.6" fill="#1f77b4"/>
<polyline points="314.36,377.47 350.58,397.03 386.79,399.67 423,383.3 459.21,265.36 495.42,258.65 531.64,332.6" stroke="#ff7f0e" stroke-width="0.9" stroke-opacity="0.75" fill="none" stroke-linejoin="round"/>
<g stroke="#ff7f0e" stroke-width="0.7" opacity="0.42" fill="none"><path d="M314.36 376.51V378.43"/><path d="M313.16 376.51h2.4M313.16 378.43h2.4"/></g>
<circle cx="314.36" cy="377.47" r="1.3" fill="#ff7f0e"/>
<g stroke="#ff7f0e" stroke-width="0.7" opacity="0.42" fill="none"><path d="M350.58 396.08V397.99"/><path d="M349.38 396.08h2.4M349.38 397.99h2.4"/></g>
<circle cx="350.58" cy="397.03" r="1.3" fill="#ff7f0e"/>
<g stroke="#ff7f0e" stroke-width="0.7" opacity="0.42" fill="none"><path d="M386.79 398.71V400.63"/><path d="M385.59 398.71h2.4M385.59 400.63h2.4"/></g>
<circle cx="386.79" cy="399.67" r="1.3" fill="#ff7f0e"/>
<g stroke="#ff7f0e" stroke-width="0.7" opacity="0.42" fill="none"><path d="M423 381.7V384.9"/><path d="M421.8 381.7h2.4M421.8 384.9h2.4"/></g>
<circle cx="423" cy="383.3" r="1.3" fill="#ff7f0e"/>
<g stroke="#ff7f0e" stroke-width="0.7" opacity="0.42" fill="none"><path d="M459.21 260.57V270.15"/><path d="M458.01 260.57h2.4M458.01 270.15h2.4"/></g>
<circle cx="459.21" cy="265.36" r="1.3" fill="#ff7f0e"/>
<g stroke="#ff7f0e" stroke-width="0.7" opacity="0.42" fill="none"><path d="M495.42 253.46V263.85"/><path d="M494.22 253.46h2.4M494.22 263.85h2.4"/></g>
<circle cx="495.42" cy="258.65" r="1.3" fill="#ff7f0e"/>
<g stroke="#ff7f0e" stroke-width="0.7" opacity="0.42" fill="none"><path d="M531.64 327.81V337.39"/><path d="M530.44 327.81h2.4M530.44 337.39h2.4"/></g>
<circle cx="531.64" cy="332.6" r="1.3" fill="#ff7f0e"/>
<polyline points="314.36,378.11 350.58,397.67 386.79,400.23 423,383.94 459.21,270.23 495.42,264.24 531.64,344.81" stroke="#2ca02c" stroke-width="0.9" stroke-opacity="0.75" fill="none" stroke-linejoin="round"/>
<g stroke="#2ca02c" stroke-width="0.7" opacity="0.42" fill="none"><path d="M314.36 377.15V379.07"/><path d="M313.16 377.15h2.4M313.16 379.07h2.4"/></g>
<path d="M312.86 378.11h3M314.36 376.61v3" stroke="#2ca02c" stroke-width="0.8" fill="none"/>
<g stroke="#2ca02c" stroke-width="0.7" opacity="0.42" fill="none"><path d="M350.58 396.72V398.63"/><path d="M349.38 396.72h2.4M349.38 398.63h2.4"/></g>
<path d="M349.08 397.67h3M350.58 396.17v3" stroke="#2ca02c" stroke-width="0.8" fill="none"/>
<g stroke="#2ca02c" stroke-width="0.7" opacity="0.42" fill="none"><path d="M386.79 399.27V401.19"/><path d="M385.59 399.27h2.4M385.59 401.19h2.4"/></g>
<path d="M385.29 400.23h3M386.79 398.73v3" stroke="#2ca02c" stroke-width="0.8" fill="none"/>
<g stroke="#2ca02c" stroke-width="0.7" opacity="0.42" fill="none"><path d="M423 382.34V385.54"/><path d="M421.8 382.34h2.4M421.8 385.54h2.4"/></g>
<path d="M421.5 383.94h3M423 382.44v3" stroke="#2ca02c" stroke-width="0.8" fill="none"/>
<g stroke="#2ca02c" stroke-width="0.7" opacity="0.42" fill="none"><path d="M459.21 265.44V275.02"/><path d="M458.01 265.44h2.4M458.01 275.02h2.4"/></g>
<path d="M457.71 270.23h3M459.21 268.73v3" stroke="#2ca02c" stroke-width="0.8" fill="none"/>
<g stroke="#2ca02c" stroke-width="0.7" opacity="0.42" fill="none"><path d="M495.42 259.05V269.43"/><path d="M494.22 259.05h2.4M494.22 269.43h2.4"/></g>
<path d="M493.92 264.24h3M495.42 262.74v3" stroke="#2ca02c" stroke-width="0.8" fill="none"/>
<g stroke="#2ca02c" stroke-width="0.7" opacity="0.42" fill="none"><path d="M531.64 340.02V349.6"/><path d="M530.44 340.02h2.4M530.44 349.6h2.4"/></g>
<path d="M530.14 344.81h3M531.64 343.31v3" stroke="#2ca02c" stroke-width="0.8" fill="none"/>
<polyline points="314.36,380.11 350.58,399.19 386.79,401.51 423,385.7 459.21,274.94 495.42,267.12 531.64,350.4" stroke="#d62728" stroke-width="0.9" stroke-opacity="0.75" fill="none" stroke-linejoin="round"/>
<g stroke="#d62728" stroke-width="0.7" opacity="0.42" fill="none"><path d="M314.36 379.15V381.06"/><path d="M313.16 379.15h2.4M313.16 381.06h2.4"/></g>
<circle cx="314.36" cy="380.11" r="1.3" fill="#d62728"/>
<g stroke="#d62728" stroke-width="0.7" opacity="0.42" fill="none"><path d="M350.58 398.23V400.15"/><path d="M349.38 398.23h2.4M349.38 400.15h2.4"/></g>
<circle cx="350.58" cy="399.19" r="1.3" fill="#d62728"/>
<g stroke="#d62728" stroke-width="0.7" opacity="0.42" fill="none"><path d="M386.79 400.55V402.46"/><path d="M385.59 400.55h2.4M385.59 402.46h2.4"/></g>
<circle cx="386.79" cy="401.51" r="1.3" fill="#d62728"/>
<g stroke="#d62728" stroke-width="0.7" opacity="0.42" fill="none"><path d="M423 384.1V387.29"/><path d="M421.8 384.1h2.4M421.8 387.29h2.4"/></g>
<circle cx="423" cy="385.7" r="1.3" fill="#d62728"/>
<g stroke="#d62728" stroke-width="0.7" opacity="0.42" fill="none"><path d="M459.21 270.15V279.74"/><path d="M458.01 270.15h2.4M458.01 279.74h2.4"/></g>
<circle cx="459.21" cy="274.94" r="1.3" fill="#d62728"/>
<g stroke="#d62728" stroke-width="0.7" opacity="0.42" fill="none"><path d="M495.42 261.93V272.31"/><path d="M494.22 261.93h2.4M494.22 272.31h2.4"/></g>
<circle cx="495.42" cy="267.12" r="1.3" fill="#d62728"/>
<g stroke="#d62728" stroke-width="0.7" opacity="0.42" fill="none"><path d="M531.64 345.61V355.19"/><path d="M530.44 345.61h2.4M530.44 355.19h2.4"/></g>
<circle cx="531.64" cy="350.4" r="1.3" fill="#d62728"/>
<polyline points="314.36,367.89 350.58,386.97 386.79,389.53 423,373 459.21,237.97 495.42,231.75 531.64,319.02" stroke="#000000" stroke-width="0.75" stroke-opacity="0.8" fill="none" stroke-linejoin="round"/>
<g stroke="#000000" stroke-width="0.7" opacity="0.42" fill="none"><path d="M314.36 366.93V368.85"/><path d="M313.16 366.93h2.4M313.16 368.85h2.4"/></g>
<circle cx="314.36" cy="367.89" r="1.75" fill="#000000"/>
<g stroke="#000000" stroke-width="0.7" opacity="0.42" fill="none"><path d="M350.58 386.02V387.93"/><path d="M349.38 386.02h2.4M349.38 387.93h2.4"/></g>
<circle cx="350.58" cy="386.97" r="1.75" fill="#000000"/>
<g stroke="#000000" stroke-width="0.7" opacity="0.42" fill="none"><path d="M386.79 388.57V390.49"/><path d="M385.59 388.57h2.4M385.59 390.49h2.4"/></g>
<circle cx="386.79" cy="389.53" r="1.75" fill="#000000"/>
<g stroke="#000000" stroke-width="0.7" opacity="0.42" fill="none"><path d="M423 371.4V374.6"/><path d="M421.8 371.4h2.4M421.8 374.6h2.4"/></g>
<circle cx="423" cy="373" r="1.75" fill="#000000"/>
<g stroke="#000000" stroke-width="0.7" opacity="0.42" fill="none"><path d="M459.21 233.18V242.76"/><path d="M458.01 233.18h2.4M458.01 242.76h2.4"/></g>
<circle cx="459.21" cy="237.97" r="1.75" fill="#000000"/>
<g stroke="#000000" stroke-width="0.7" opacity="0.42" fill="none"><path d="M495.42 226.56V236.94"/><path d="M494.22 226.56h2.4M494.22 236.94h2.4"/></g>
<circle cx="495.42" cy="231.75" r="1.75" fill="#000000"/>
<g stroke="#000000" stroke-width="0.7" opacity="0.42" fill="none"><path d="M531.64 314.23V323.81"/><path d="M530.44 314.23h2.4M530.44 323.81h2.4"/></g>
<circle cx="531.64" cy="319.02" r="1.75" fill="#000000"/>
<polyline points="314.36,372.2 350.58,392.08 386.79,394.64 423,381.06 459.21,241.09 495.42,241.09 531.64,319.02" stroke="#ffd700" stroke-width="1.05" stroke-opacity="0.8" fill="none" stroke-linejoin="round"/>
<g stroke="#ffd700" stroke-width="0.7" opacity="0.42" fill="none"><path d="M314.36 371.24V373.16"/><path d="M313.16 371.24h2.4M313.16 373.16h2.4"/></g>
<path d="M314.36 370L316.26 373.6H312.46Z" fill="#ffd700" fill-opacity="0.95"/>
<g stroke="#ffd700" stroke-width="0.7" opacity="0.42" fill="none"><path d="M350.58 391.13V393.04"/><path d="M349.38 391.13h2.4M349.38 393.04h2.4"/></g>
<path d="M350.58 389.88L352.48 393.48H348.68Z" fill="#ffd700" fill-opacity="0.95"/>
<g stroke="#ffd700" stroke-width="0.7" opacity="0.42" fill="none"><path d="M386.79 393.68V395.6"/><path d="M385.59 393.68h2.4M385.59 395.6h2.4"/></g>
<path d="M386.79 392.44L388.69 396.04H384.89Z" fill="#ffd700" fill-opacity="0.95"/>
<g stroke="#ffd700" stroke-width="0.7" opacity="0.42" fill="none"><path d="M423 379.47V382.66"/><path d="M421.8 379.47h2.4M421.8 382.66h2.4"/></g>
<path d="M423 378.86L424.9 382.46H421.1Z" fill="#ffd700" fill-opacity="0.95"/>
<g stroke="#ffd700" stroke-width="0.7" opacity="0.42" fill="none"><path d="M459.21 236.3V245.88"/><path d="M458.01 236.3h2.4M458.01 245.88h2.4"/></g>
<path d="M459.21 238.89L461.11 242.49H457.31Z" fill="#ffd700" fill-opacity="0.95"/>
<g stroke="#ffd700" stroke-width="0.7" opacity="0.42" fill="none"><path d="M495.42 235.9V246.28"/><path d="M494.22 235.9h2.4M494.22 246.28h2.4"/></g>
<path d="M495.42 238.89L497.32 242.49H493.52Z" fill="#ffd700" fill-opacity="0.95"/>
<g stroke="#ffd700" stroke-width="0.7" opacity="0.42" fill="none"><path d="M531.64 314.23V323.81"/><path d="M530.44 314.23h2.4M530.44 323.81h2.4"/></g>
<path d="M531.64 316.82L533.54 320.42H529.74Z" fill="#ffd700" fill-opacity="0.95"/>
<rect x="303.5" y="218.2" width="239" height="194.2" stroke="#a2a2a2" stroke-width="1" fill="none"/>
<text x="301.1" y="387.2" font-size="8.0" text-anchor="end">35</text>
<text x="301.1" y="347.27" font-size="8.0" text-anchor="end">40</text>
<text x="301.1" y="307.35" font-size="8.0" text-anchor="end">45</text>
<text x="301.1" y="267.43" font-size="8.0" text-anchor="end">50</text>
<text x="301.1" y="227.5" font-size="8.0" text-anchor="end">55</text>
<text x="314.36" y="420.8" font-size="8.0" text-anchor="middle">Coastal</text>
<text x="350.58" y="420.8" font-size="8.0" text-anchor="middle">Blue</text>
<text x="386.79" y="420.8" font-size="8.0" text-anchor="middle">Green</text>
<text x="423" y="420.8" font-size="8.0" text-anchor="middle">Red</text>
<text x="459.21" y="420.8" font-size="8.0" text-anchor="middle">Nir</text>
<text x="495.42" y="420.8" font-size="8.0" text-anchor="middle">SWIR1</text>
<text x="531.64" y="420.8" font-size="8.0" text-anchor="middle">SWIR2</text>
<path d="M301.7 383.7H303.5M301.7 343.77H303.5M301.7 303.85H303.5M301.7 263.93H303.5M301.7 224H303.5M314.36 412.4V414.4M350.58 412.4V414.4M386.79 412.4V414.4M423 412.4V414.4M459.21 412.4V414.4M495.42 412.4V414.4M531.64 412.4V414.4" stroke="#a2a2a2" stroke-width="0.8" fill="none"/>
<rect x="312.1" y="222.9" width="76" height="74" rx="1" fill="#fff" stroke="#c4c4c4" stroke-width="0.9"/>
<path d="M315.1 228.7H332.9" stroke="#1f77b4" stroke-width="1.1" stroke-opacity="0.75"/>
<g stroke="#1f77b4" stroke-width="0.7" opacity="0.42" fill="none"><path d="M323.9 224.5V232.9"/><path d="M322.7 224.5h2.4M322.7 232.9h2.4"/></g>
<circle cx="323.9" cy="228.7" r="2.1" fill="#1f77b4"/>
<text x="339.6" y="231.6" font-size="8.5">IFRNet</text>
<path d="M315.1 240.87H332.9" stroke="#ff7f0e" stroke-width="1.1" stroke-opacity="0.75"/>
<g stroke="#ff7f0e" stroke-width="0.7" opacity="0.42" fill="none"><path d="M323.9 236.67V245.07"/><path d="M322.7 236.67h2.4M322.7 245.07h2.4"/></g>
<circle cx="323.9" cy="240.87" r="1.3" fill="#ff7f0e"/>
<text x="339.6" y="243.77" font-size="8.5">Super SloMo</text>
<path d="M315.1 253.04H332.9" stroke="#2ca02c" stroke-width="1.1" stroke-opacity="0.75"/>
<g stroke="#2ca02c" stroke-width="0.7" opacity="0.42" fill="none"><path d="M323.9 248.84V257.24"/><path d="M322.7 248.84h2.4M322.7 257.24h2.4"/></g>
<path d="M322.4 253.04h3M323.9 251.54v3" stroke="#2ca02c" stroke-width="0.8" fill="none"/>
<text x="339.6" y="255.94" font-size="8.5">Unet</text>
<path d="M315.1 265.21H332.9" stroke="#d62728" stroke-width="1.1" stroke-opacity="0.75"/>
<g stroke="#d62728" stroke-width="0.7" opacity="0.42" fill="none"><path d="M323.9 261.01V269.41"/><path d="M322.7 261.01h2.4M322.7 269.41h2.4"/></g>
<circle cx="323.9" cy="265.21" r="1.3" fill="#d62728"/>
<text x="339.6" y="268.11" font-size="8.5">Linear</text>
<path d="M315.1 277.38H332.9" stroke="#000000" stroke-width="1.1" stroke-opacity="0.75"/>
<g stroke="#000000" stroke-width="0.7" opacity="0.42" fill="none"><path d="M323.9 273.18V281.58"/><path d="M322.7 273.18h2.4M322.7 281.58h2.4"/></g>
<circle cx="323.9" cy="277.38" r="1.75" fill="#000000"/>
<text x="339.6" y="280.28" font-size="8.5">True</text>
<path d="M315.1 289.55H332.9" stroke="#ffd700" stroke-width="1.2" stroke-opacity="0.75"/>
<g stroke="#ffd700" stroke-width="0.7" opacity="0.42" fill="none"><path d="M323.9 285.35V293.75"/><path d="M322.7 285.35h2.4M322.7 293.75h2.4"/></g>
<path d="M323.9 287.35L325.8 290.95H322Z" fill="#ffd700" fill-opacity="0.95"/>
<text x="339.6" y="292.45" font-size="8.5">Ours</text>
<path d="M55.36 434.6V629.3M91.58 434.6V629.3M127.79 434.6V629.3M164 434.6V629.3M200.21 434.6V629.3M236.42 434.6V629.3M272.64 434.6V629.3M44.5 604.6H283.5M44.5 561.53H283.5M44.5 518.47H283.5M44.5 475.4H283.5" stroke="#d6d6d6" stroke-width="0.6" stroke-dasharray="1.8,1.2" fill="none"/>
<polyline points="55.36,592.11 91.58,610.8 127.79,616.66 164,605.63 200.21,484.44 236.42,463.6 272.64,573.59" stroke="#1f77b4" stroke-width="0.9" stroke-opacity="0.75" fill="none" stroke-linejoin="round"/>
<g stroke="#1f77b4" stroke-width="0.7" opacity="0.42" fill="none"><path d="M55.36 591.08V593.14"/><path d="M54.16 591.08h2.4M54.16 593.14h2.4"/></g>
<rect x="53.56" y="590.31" width="3.6" height="3.6" fill="#1f77b4"/>
<g stroke="#1f77b4" stroke-width="0.7" opacity="0.42" fill="none"><path d="M91.58 609.77V611.84"/><path d="M90.38 609.77h2.4M90.38 611.84h2.4"/></g>
<rect x="89.78" y="609" width="3.6" height="3.6" fill="#1f77b4"/>
<g stroke="#1f77b4" stroke-width="0.7" opacity="0.42" fill="none"><path d="M127.79 615.63V617.69"/><path d="M126.59 615.63h2.4M126.59 617.69h2.4"/></g>
<rect x="125.99" y="614.86" width="3.6" height="3.6" fill="#1f77b4"/>
<g stroke="#1f77b4" stroke-width="0.7" opacity="0.42" fill="none"><path d="M164 603.91V607.36"/><path d="M162.8 603.91h2.4M162.8 607.36h2.4"/></g>
<rect x="162.2" y="603.83" width="3.6" height="3.6" fill="#1f77b4"/>
<g stroke="#1f77b4" stroke-width="0.7" opacity="0.42" fill="none"><path d="M200.21 479.28V489.61"/><path d="M199.01 479.28h2.4M199.01 489.61h2.4"/></g>
<rect x="198.41" y="482.64" width="3.6" height="3.6" fill="#1f77b4"/>
<g stroke="#1f77b4" stroke-width="0.7" opacity="0.42" fill="none"><path d="M236.42 458V469.2"/><path d="M235.22 458h2.4M235.22 469.2h2.4"/></g>
<rect x="234.62" y="461.8" width="3.6" height="3.6" fill="#1f77b4"/>
<g stroke="#1f77b4" stroke-width="0.7" opacity="0.42" fill="none"><path d="M272.64 568.42V578.76"/><path d="M271.44 568.42h2.4M271.44 578.76h2.4"/></g>
<rect x="270.84" y="571.79" width="3.6" height="3.6" fill="#1f77b4"/>
<polyline points="55.36,592.97 91.58,612.35 127.79,617.52 164,607.18 200.21,487.11 236.42,465.84 272.64,569.54" stroke="#ff7f0e" stroke-width="0.9" stroke-opacity="0.75" fill="none" stroke-linejoin="round"/>
<g stroke="#ff7f0e" stroke-width="0.7" opacity="0.42" fill="none"><path d="M55.36 591.94V594.01"/><path d="M54.16 591.94h2.4M54.16 594.01h2.4"/></g>
<circle cx="55.36" cy="592.97" r="1.3" fill="#ff7f0e"/>
<g stroke="#ff7f0e" stroke-width="0.7" opacity="0.42" fill="none"><path d="M91.58 611.32V613.39"/><path d="M90.38 611.32h2.4M90.38 613.39h2.4"/></g>
<circle cx="91.58" cy="612.35" r="1.3" fill="#ff7f0e"/>
<g stroke="#ff7f0e" stroke-width="0.7" opacity="0.42" fill="none"><path d="M127.79 616.49V618.55"/><path d="M126.59 616.49h2.4M126.59 618.55h2.4"/></g>
<circle cx="127.79" cy="617.52" r="1.3" fill="#ff7f0e"/>
<g stroke="#ff7f0e" stroke-width="0.7" opacity="0.42" fill="none"><path d="M164 605.46V608.91"/><path d="M162.8 605.46h2.4M162.8 608.91h2.4"/></g>
<circle cx="164" cy="607.18" r="1.3" fill="#ff7f0e"/>
<g stroke="#ff7f0e" stroke-width="0.7" opacity="0.42" fill="none"><path d="M200.21 481.95V492.28"/><path d="M199.01 481.95h2.4M199.01 492.28h2.4"/></g>
<circle cx="200.21" cy="487.11" r="1.3" fill="#ff7f0e"/>
<g stroke="#ff7f0e" stroke-width="0.7" opacity="0.42" fill="none"><path d="M236.42 460.24V471.44"/><path d="M235.22 460.24h2.4M235.22 471.44h2.4"/></g>
<circle cx="236.42" cy="465.84" r="1.3" fill="#ff7f0e"/>
<g stroke="#ff7f0e" stroke-width="0.7" opacity="0.42" fill="none"><path d="M272.64 564.38V574.71"/><path d="M271.44 564.38h2.4M271.44 574.71h2.4"/></g>
<circle cx="272.64" cy="569.54" r="1.3" fill="#ff7f0e"/>
<polyline points="55.36,592.54 91.58,611.49 127.79,618.64 164,606.32 200.21,499 236.42,478.07 272.64,584.96" stroke="#2ca02c" stroke-width="0.9" stroke-opacity="0.75" fill="none" stroke-linejoin="round"/>
<g stroke="#2ca02c" stroke-width="0.7" opacity="0.42" fill="none"><path d="M55.36 591.51V593.57"/><path d="M54.16 591.51h2.4M54.16 593.57h2.4"/></g>
<path d="M53.86 592.54h3M55.36 591.04v3" stroke="#2ca02c" stroke-width="0.8" fill="none"/>
<g stroke="#2ca02c" stroke-width="0.7" opacity="0.42" fill="none"><path d="M91.58 610.46V612.52"/><path d="M90.38 610.46h2.4M90.38 612.52h2.4"/></g>
<path d="M90.08 611.49h3M91.58 609.99v3" stroke="#2ca02c" stroke-width="0.8" fill="none"/>
<g stroke="#2ca02c" stroke-width="0.7" opacity="0.42" fill="none"><path d="M127.79 617.61V619.67"/><path d="M126.59 617.61h2.4M126.59 619.67h2.4"/></g>
<path d="M126.29 618.64h3M127.79 617.14v3" stroke="#2ca02c" stroke-width="0.8" fill="none"/>
<g stroke="#2ca02c" stroke-width="0.7" opacity="0.42" fill="none"><path d="M164 604.6V608.05"/><path d="M162.8 604.6h2.4M162.8 608.05h2.4"/></g>
<path d="M162.5 606.32h3M164 604.82v3" stroke="#2ca02c" stroke-width="0.8" fill="none"/>
<g stroke="#2ca02c" stroke-width="0.7" opacity="0.42" fill="none"><path d="M200.21 493.83V504.17"/><path d="M199.01 493.83h2.4M199.01 504.17h2.4"/></g>
<path d="M198.71 499h3M200.21 497.5v3" stroke="#2ca02c" stroke-width="0.8" fill="none"/>
<g stroke="#2ca02c" stroke-width="0.7" opacity="0.42" fill="none"><path d="M236.42 472.47V483.67"/><path d="M235.22 472.47h2.4M235.22 483.67h2.4"/></g>
<path d="M234.92 478.07h3M236.42 476.57v3" stroke="#2ca02c" stroke-width="0.8" fill="none"/>
<g stroke="#2ca02c" stroke-width="0.7" opacity="0.42" fill="none"><path d="M272.64 579.79V590.13"/><path d="M271.44 579.79h2.4M271.44 590.13h2.4"/></g>
<path d="M271.14 584.96h3M272.64 583.46v3" stroke="#2ca02c" stroke-width="0.8" fill="none"/>
<polyline points="55.36,593.57 91.58,613.21 127.79,617.52 164,608.48 200.21,494.95 236.42,473.68 272.64,581.6" stroke="#d62728" stroke-width="0.9" stroke-opacity="0.75" fill="none" stroke-linejoin="round"/>
<g stroke="#d62728" stroke-width="0.7" opacity="0.42" fill="none"><path d="M55.36 592.54V594.61"/><path d="M54.16 592.54h2.4M54.16 594.61h2.4"/></g>
<circle cx="55.36" cy="593.57" r="1.3" fill="#d62728"/>
<g stroke="#d62728" stroke-width="0.7" opacity="0.42" fill="none"><path d="M91.58 612.18V614.25"/><path d="M90.38 612.18h2.4M90.38 614.25h2.4"/></g>
<circle cx="91.58" cy="613.21" r="1.3" fill="#d62728"/>
<g stroke="#d62728" stroke-width="0.7" opacity="0.42" fill="none"><path d="M127.79 616.49V618.55"/><path d="M126.59 616.49h2.4M126.59 618.55h2.4"/></g>
<circle cx="127.79" cy="617.52" r="1.3" fill="#d62728"/>
<g stroke="#d62728" stroke-width="0.7" opacity="0.42" fill="none"><path d="M164 606.75V610.2"/><path d="M162.8 606.75h2.4M162.8 610.2h2.4"/></g>
<circle cx="164" cy="608.48" r="1.3" fill="#d62728"/>
<g stroke="#d62728" stroke-width="0.7" opacity="0.42" fill="none"><path d="M200.21 489.78V500.12"/><path d="M199.01 489.78h2.4M199.01 500.12h2.4"/></g>
<circle cx="200.21" cy="494.95" r="1.3" fill="#d62728"/>
<g stroke="#d62728" stroke-width="0.7" opacity="0.42" fill="none"><path d="M236.42 468.08V479.28"/><path d="M235.22 468.08h2.4M235.22 479.28h2.4"/></g>
<circle cx="236.42" cy="473.68" r="1.3" fill="#d62728"/>
<g stroke="#d62728" stroke-width="0.7" opacity="0.42" fill="none"><path d="M272.64 576.43V586.77"/><path d="M271.44 576.43h2.4M271.44 586.77h2.4"/></g>
<circle cx="272.64" cy="581.6" r="1.3" fill="#d62728"/>
<polyline points="55.36,591.16 91.58,609.6 127.79,614.76 164,604.17 200.21,472.13 236.42,451.71 272.64,561.53" stroke="#000000" stroke-width="0.75" stroke-opacity="0.8" fill="none" stroke-linejoin="round"/>
<g stroke="#000000" stroke-width="0.7" opacity="0.42" fill="none"><path d="M55.36 590.13V592.2"/><path d="M54.16 590.13h2.4M54.16 592.2h2.4"/></g>
<circle cx="55.36" cy="591.16" r="1.75" fill="#000000"/>
<g stroke="#000000" stroke-width="0.7" opacity="0.42" fill="none"><path d="M91.58 608.56V610.63"/><path d="M90.38 608.56h2.4M90.38 610.63h2.4"/></g>
<circle cx="91.58" cy="609.6" r="1.75" fill="#000000"/>
<g stroke="#000000" stroke-width="0.7" opacity="0.42" fill="none"><path d="M127.79 613.73V615.8"/><path d="M126.59 613.73h2.4M126.59 615.8h2.4"/></g>
<circle cx="127.79" cy="614.76" r="1.75" fill="#000000"/>
<g stroke="#000000" stroke-width="0.7" opacity="0.42" fill="none"><path d="M164 602.45V605.89"/><path d="M162.8 602.45h2.4M162.8 605.89h2.4"/></g>
<circle cx="164" cy="604.17" r="1.75" fill="#000000"/>
<g stroke="#000000" stroke-width="0.7" opacity="0.42" fill="none"><path d="M200.21 466.96V477.29"/><path d="M199.01 466.96h2.4M199.01 477.29h2.4"/></g>
<circle cx="200.21" cy="472.13" r="1.75" fill="#000000"/>
<g stroke="#000000" stroke-width="0.7" opacity="0.42" fill="none"><path d="M236.42 446.11V457.31"/><path d="M235.22 446.11h2.4M235.22 457.31h2.4"/></g>
<circle cx="236.42" cy="451.71" r="1.75" fill="#000000"/>
<g stroke="#000000" stroke-width="0.7" opacity="0.42" fill="none"><path d="M272.64 556.37V566.7"/><path d="M271.44 556.37h2.4M271.44 566.7h2.4"/></g>
<circle cx="272.64" cy="561.53" r="1.75" fill="#000000"/>
<polyline points="55.36,589.61 91.58,610.8 127.79,616.66 164,613.9 200.21,459.12 236.42,449.73 272.64,557.49" stroke="#ffd700" stroke-width="1.05" stroke-opacity="0.8" fill="none" stroke-linejoin="round"/>
<g stroke="#ffd700" stroke-width="0.7" opacity="0.42" fill="none"><path d="M55.36 588.58V590.65"/><path d="M54.16 588.58h2.4M54.16 590.65h2.4"/></g>
<path d="M55.36 587.41L57.26 591.01H53.46Z" fill="#ffd700" fill-opacity="0.95"/>
<g stroke="#ffd700" stroke-width="0.7" opacity="0.42" fill="none"><path d="M91.58 609.77V611.84"/><path d="M90.38 609.77h2.4M90.38 611.84h2.4"/></g>
<path d="M91.58 608.6L93.48 612.2H89.68Z" fill="#ffd700" fill-opacity="0.95"/>
<g stroke="#ffd700" stroke-width="0.7" opacity="0.42" fill="none"><path d="M127.79 615.63V617.69"/><path d="M126.59 615.63h2.4M126.59 617.69h2.4"/></g>
<path d="M127.79 614.46L129.69 618.06H125.89Z" fill="#ffd700" fill-opacity="0.95"/>
<g stroke="#ffd700" stroke-width="0.7" opacity="0.42" fill="none"><path d="M164 612.18V615.63"/><path d="M162.8 612.18h2.4M162.8 615.63h2.4"/></g>
<path d="M164 611.7L165.9 615.3H162.1Z" fill="#ffd700" fill-opacity="0.95"/>
<g stroke="#ffd700" stroke-width="0.7" opacity="0.42" fill="none"><path d="M200.21 453.95V464.29"/><path d="M199.01 453.95h2.4M199.01 464.29h2.4"/></g>
<path d="M200.21 456.92L202.11 460.52H198.31Z" fill="#ffd700" fill-opacity="0.95"/>
<g stroke="#ffd700" stroke-width="0.7" opacity="0.42" fill="none"><path d="M236.42 444.13V455.33"/><path d="M235.22 444.13h2.4M235.22 455.33h2.4"/></g>
<path d="M236.42 447.53L238.32 451.13H234.52Z" fill="#ffd700" fill-opacity="0.95"/>
<g stroke="#ffd700" stroke-width="0.7" opacity="0.42" fill="none"><path d="M272.64 552.32V562.65"/><path d="M271.44 552.32h2.4M271.44 562.65h2.4"/></g>
<path d="M272.64 555.29L274.54 558.89H270.74Z" fill="#ffd700" fill-opacity="0.95"/>
<rect x="44.5" y="434.6" width="239" height="194.7" stroke="#a2a2a2" stroke-width="1" fill="none"/>
<text x="42.1" y="608.1" font-size="8.0" text-anchor="end">35</text>
<text x="42.1" y="565.03" font-size="8.0" text-anchor="end">40</text>
<text x="42.1" y="521.97" font-size="8.0" text-anchor="end">45</text>
<text x="42.1" y="478.9" font-size="8.0" text-anchor="end">50</text>
<text x="55.36" y="637.7" font-size="8.0" text-anchor="middle">Coastal</text>
<text x="91.58" y="637.7" font-size="8.0" text-anchor="middle">Blue</text>
<text x="127.79" y="637.7" font-size="8.0" text-anchor="middle">Green</text>
<text x="164" y="637.7" font-size="8.0" text-anchor="middle">Red</text>
<text x="200.21" y="637.7" font-size="8.0" text-anchor="middle">Nir</text>
<text x="236.42" y="637.7" font-size="8.0" text-anchor="middle">SWIR1</text>
<text x="272.64" y="637.7" font-size="8.0" text-anchor="middle">SWIR2</text>
<path d="M42.7 604.6H44.5M42.7 561.53H44.5M42.7 518.47H44.5M42.7 475.4H44.5M55.36 629.3V631.3M91.58 629.3V631.3M127.79 629.3V631.3M164 629.3V631.3M200.21 629.3V631.3M236.42 629.3V631.3M272.64 629.3V631.3" stroke="#a2a2a2" stroke-width="0.8" fill="none"/>
<text transform="translate(31 531.95) rotate(-90)" font-size="7.7" text-anchor="middle">Data Value</text>
<rect x="53.4" y="440.5" width="76" height="74" rx="1" fill="#fff" stroke="#c4c4c4" stroke-width="0.9"/>
<path d="M56.4 446.3H74.2" stroke="#1f77b4" stroke-width="1.1" stroke-opacity="0.75"/>
<g stroke="#1f77b4" stroke-width="0.7" opacity="0.42" fill="none"><path d="M65.2 442.1V450.5"/><path d="M64 442.1h2.4M64 450.5h2.4"/></g>
<circle cx="65.2" cy="446.3" r="2.1" fill="#1f77b4"/>
<text x="80.9" y="449.2" font-size="8.5">IFRNet</text>
<path d="M56.4 458.47H74.2" stroke="#ff7f0e" stroke-width="1.1" stroke-opacity="0.75"/>
<g stroke="#ff7f0e" stroke-width="0.7" opacity="0.42" fill="none"><path d="M65.2 454.27V462.67"/><path d="M64 454.27h2.4M64 462.67h2.4"/></g>
<circle cx="65.2" cy="458.47" r="1.3" fill="#ff7f0e"/>
<text x="80.9" y="461.37" font-size="8.5">Super SloMo</text>
<path d="M56.4 470.64H74.2" stroke="#2ca02c" stroke-width="1.1" stroke-opacity="0.75"/>
<g stroke="#2ca02c" stroke-width="0.7" opacity="0.42" fill="none"><path d="M65.2 466.44V474.84"/><path d="M64 466.44h2.4M64 474.84h2.4"/></g>
<path d="M63.7 470.64h3M65.2 469.14v3" stroke="#2ca02c" stroke-width="0.8" fill="none"/>
<text x="80.9" y="473.54" font-size="8.5">Unet</text>
<path d="M56.4 482.81H74.2" stroke="#d62728" stroke-width="1.1" stroke-opacity="0.75"/>
<g stroke="#d62728" stroke-width="0.7" opacity="0.42" fill="none"><path d="M65.2 478.61V487.01"/><path d="M64 478.61h2.4M64 487.01h2.4"/></g>
<circle cx="65.2" cy="482.81" r="1.3" fill="#d62728"/>
<text x="80.9" y="485.71" font-size="8.5">Linear</text>
<path d="M56.4 494.98H74.2" stroke="#000000" stroke-width="1.1" stroke-opacity="0.75"/>
<g stroke="#000000" stroke-width="0.7" opacity="0.42" fill="none"><path d="M65.2 490.78V499.18"/><path d="M64 490.78h2.4M64 499.18h2.4"/></g>
<circle cx="65.2" cy="494.98" r="1.75" fill="#000000"/>
<text x="80.9" y="497.88" font-size="8.5">True</text>
<path d="M56.4 507.15H74.2" stroke="#ffd700" stroke-width="1.2" stroke-opacity="0.75"/>
<g stroke="#ffd700" stroke-width="0.7" opacity="0.42" fill="none"><path d="M65.2 502.95V511.35"/><path d="M64 502.95h2.4M64 511.35h2.4"/></g>
<path d="M65.2 504.95L67.1 508.55H63.3Z" fill="#ffd700" fill-opacity="0.95"/>
<text x="80.9" y="510.05" font-size="8.5">Ours</text>
<path d="M315.76 434.6V629.3M351.98 434.6V629.3M388.19 434.6V629.3M424.4 434.6V629.3M460.61 434.6V629.3M496.82 434.6V629.3M533.04 434.6V629.3M304.9 604.4H543.9M304.9 562.08H543.9M304.9 519.75H543.9M304.9 477.43H543.9M304.9 435.1H543.9" stroke="#d6d6d6" stroke-width="0.6" stroke-dasharray="1.8,1.2" fill="none"/>
<polyline points="315.76,594.24 351.98,612.7 388.19,617.77 424.4,587.3 460.61,466.93 496.82,453.13 533.04,531.85" stroke="#1f77b4" stroke-width="0.9" stroke-opacity="0.75" fill="none" stroke-linejoin="round"/>
<g stroke="#1f77b4" stroke-width="0.7" opacity="0.42" fill="none"><path d="M315.76 593.23V595.26"/><path d="M314.56 593.23h2.4M314.56 595.26h2.4"/></g>
<rect x="313.96" y="592.44" width="3.6" height="3.6" fill="#1f77b4"/>
<g stroke="#1f77b4" stroke-width="0.7" opacity="0.42" fill="none"><path d="M351.98 611.68V613.71"/><path d="M350.78 611.68h2.4M350.78 613.71h2.4"/></g>
<rect x="350.18" y="610.9" width="3.6" height="3.6" fill="#1f77b4"/>
<g stroke="#1f77b4" stroke-width="0.7" opacity="0.42" fill="none"><path d="M388.19 616.76V618.79"/><path d="M386.99 616.76h2.4M386.99 618.79h2.4"/></g>
<rect x="386.39" y="615.97" width="3.6" height="3.6" fill="#1f77b4"/>
<g stroke="#1f77b4" stroke-width="0.7" opacity="0.42" fill="none"><path d="M424.4 585.61V588.99"/><path d="M423.2 585.61h2.4M423.2 588.99h2.4"/></g>
<rect x="422.6" y="585.5" width="3.6" height="3.6" fill="#1f77b4"/>
<g stroke="#1f77b4" stroke-width="0.7" opacity="0.42" fill="none"><path d="M460.61 461.85V472.01"/><path d="M459.41 461.85h2.4M459.41 472.01h2.4"/></g>
<rect x="458.81" y="465.13" width="3.6" height="3.6" fill="#1f77b4"/>
<g stroke="#1f77b4" stroke-width="0.7" opacity="0.42" fill="none"><path d="M496.82 447.63V458.63"/><path d="M495.62 447.63h2.4M495.62 458.63h2.4"/></g>
<rect x="495.02" y="451.33" width="3.6" height="3.6" fill="#1f77b4"/>
<g stroke="#1f77b4" stroke-width="0.7" opacity="0.42" fill="none"><path d="M533.04 526.78V536.93"/><path d="M531.84 526.78h2.4M531.84 536.93h2.4"/></g>
<rect x="531.24" y="530.05" width="3.6" height="3.6" fill="#1f77b4"/>
<polyline points="315.76,594.24 351.98,613.29 388.19,617.77 424.4,589.16 460.61,468.11 496.82,452.03 533.04,529.91" stroke="#ff7f0e" stroke-width="0.9" stroke-opacity="0.75" fill="none" stroke-linejoin="round"/>
<g stroke="#ff7f0e" stroke-width="0.7" opacity="0.42" fill="none"><path d="M315.76 593.23V595.26"/><path d="M314.56 593.23h2.4M314.56 595.26h2.4"/></g>
<circle cx="315.76" cy="594.24" r="1.3" fill="#ff7f0e"/>
<g stroke="#ff7f0e" stroke-width="0.7" opacity="0.42" fill="none"><path d="M351.98 612.27V614.3"/><path d="M350.78 612.27h2.4M350.78 614.3h2.4"/></g>
<circle cx="351.98" cy="613.29" r="1.3" fill="#ff7f0e"/>
<g stroke="#ff7f0e" stroke-width="0.7" opacity="0.42" fill="none"><path d="M388.19 616.76V618.79"/><path d="M386.99 616.76h2.4M386.99 618.79h2.4"/></g>
<circle cx="388.19" cy="617.77" r="1.3" fill="#ff7f0e"/>
<g stroke="#ff7f0e" stroke-width="0.7" opacity="0.42" fill="none"><path d="M424.4 587.47V590.86"/><path d="M423.2 587.47h2.4M423.2 590.86h2.4"/></g>
<circle cx="424.4" cy="589.16" r="1.3" fill="#ff7f0e"/>
<g stroke="#ff7f0e" stroke-width="0.7" opacity="0.42" fill="none"><path d="M460.61 463.03V473.19"/><path d="M459.41 463.03h2.4M459.41 473.19h2.4"/></g>
<circle cx="460.61" cy="468.11" r="1.3" fill="#ff7f0e"/>
<g stroke="#ff7f0e" stroke-width="0.7" opacity="0.42" fill="none"><path d="M496.82 446.53V457.53"/><path d="M495.62 446.53h2.4M495.62 457.53h2.4"/></g>
<circle cx="496.82" cy="452.03" r="1.3" fill="#ff7f0e"/>
<g stroke="#ff7f0e" stroke-width="0.7" opacity="0.42" fill="none"><path d="M533.04 524.83V534.99"/><path d="M531.84 524.83h2.4M531.84 534.99h2.4"/></g>
<circle cx="533.04" cy="529.91" r="1.3" fill="#ff7f0e"/>
<polyline points="315.76,594.24 351.98,612.7 388.19,617.77 424.4,587.47 460.61,467.69 496.82,455.08 533.04,530.25" stroke="#2ca02c" stroke-width="0.9" stroke-opacity="0.75" fill="none" stroke-linejoin="round"/>
<g stroke="#2ca02c" stroke-width="0.7" opacity="0.42" fill="none"><path d="M315.76 593.23V595.26"/><path d="M314.56 593.23h2.4M314.56 595.26h2.4"/></g>
<path d="M314.26 594.24h3M315.76 592.74v3" stroke="#2ca02c" stroke-width="0.8" fill="none"/>
<g stroke="#2ca02c" stroke-width="0.7" opacity="0.42" fill="none"><path d="M351.98 611.68V613.71"/><path d="M350.78 611.68h2.4M350.78 613.71h2.4"/></g>
<path d="M350.48 612.7h3M351.98 611.2v3" stroke="#2ca02c" stroke-width="0.8" fill="none"/>
<g stroke="#2ca02c" stroke-width="0.7" opacity="0.42" fill="none"><path d="M388.19 616.76V618.79"/><path d="M386.99 616.76h2.4M386.99 618.79h2.4"/></g>
<path d="M386.69 617.77h3M388.19 616.27v3" stroke="#2ca02c" stroke-width="0.8" fill="none"/>
<g stroke="#2ca02c" stroke-width="0.7" opacity="0.42" fill="none"><path d="M424.4 585.78V589.16"/><path d="M423.2 585.78h2.4M423.2 589.16h2.4"/></g>
<path d="M422.9 587.47h3M424.4 585.97v3" stroke="#2ca02c" stroke-width="0.8" fill="none"/>
<g stroke="#2ca02c" stroke-width="0.7" opacity="0.42" fill="none"><path d="M460.61 462.61V472.77"/><path d="M459.41 462.61h2.4M459.41 472.77h2.4"/></g>
<path d="M459.11 467.69h3M460.61 466.19v3" stroke="#2ca02c" stroke-width="0.8" fill="none"/>
<g stroke="#2ca02c" stroke-width="0.7" opacity="0.42" fill="none"><path d="M496.82 449.58V460.58"/><path d="M495.62 449.58h2.4M495.62 460.58h2.4"/></g>
<path d="M495.32 455.08h3M496.82 453.58v3" stroke="#2ca02c" stroke-width="0.8" fill="none"/>
<g stroke="#2ca02c" stroke-width="0.7" opacity="0.42" fill="none"><path d="M533.04 525.17V535.33"/><path d="M531.84 525.17h2.4M531.84 535.33h2.4"/></g>
<path d="M531.54 530.25h3M533.04 528.75v3" stroke="#2ca02c" stroke-width="0.8" fill="none"/>
<polyline points="315.76,594.67 351.98,613.29 388.19,617.77 424.4,590.35 460.61,468.54 496.82,450.68 533.04,528.47" stroke="#d62728" stroke-width="0.9" stroke-opacity="0.75" fill="none" stroke-linejoin="round"/>
<g stroke="#d62728" stroke-width="0.7" opacity="0.42" fill="none"><path d="M315.76 593.65V595.68"/><path d="M314.56 593.65h2.4M314.56 595.68h2.4"/></g>
<circle cx="315.76" cy="594.67" r="1.3" fill="#d62728"/>
<g stroke="#d62728" stroke-width="0.7" opacity="0.42" fill="none"><path d="M351.98 612.27V614.3"/><path d="M350.78 612.27h2.4M350.78 614.3h2.4"/></g>
<circle cx="351.98" cy="613.29" r="1.3" fill="#d62728"/>
<g stroke="#d62728" stroke-width="0.7" opacity="0.42" fill="none"><path d="M388.19 616.76V618.79"/><path d="M386.99 616.76h2.4M386.99 618.79h2.4"/></g>
<circle cx="388.19" cy="617.77" r="1.3" fill="#d62728"/>
<g stroke="#d62728" stroke-width="0.7" opacity="0.42" fill="none"><path d="M424.4 588.66V592.04"/><path d="M423.2 588.66h2.4M423.2 592.04h2.4"/></g>
<circle cx="424.4" cy="590.35" r="1.3" fill="#d62728"/>
<g stroke="#d62728" stroke-width="0.7" opacity="0.42" fill="none"><path d="M460.61 463.46V473.62"/><path d="M459.41 463.46h2.4M459.41 473.62h2.4"/></g>
<circle cx="460.61" cy="468.54" r="1.3" fill="#d62728"/>
<g stroke="#d62728" stroke-width="0.7" opacity="0.42" fill="none"><path d="M496.82 445.17V456.18"/><path d="M495.62 445.17h2.4M495.62 456.18h2.4"/></g>
<circle cx="496.82" cy="450.68" r="1.3" fill="#d62728"/>
<g stroke="#d62728" stroke-width="0.7" opacity="0.42" fill="none"><path d="M533.04 523.39V533.55"/><path d="M531.84 523.39h2.4M531.84 533.55h2.4"/></g>
<circle cx="533.04" cy="528.47" r="1.3" fill="#d62728"/>
<polyline points="315.76,595.43 351.98,614.47 388.19,617.77 424.4,597.2 460.61,475.9 496.82,462.53 533.04,539.98" stroke="#000000" stroke-width="0.75" stroke-opacity="0.8" fill="none" stroke-linejoin="round"/>
<g stroke="#000000" stroke-width="0.7" opacity="0.42" fill="none"><path d="M315.76 594.41V596.44"/><path d="M314.56 594.41h2.4M314.56 596.44h2.4"/></g>
<circle cx="315.76" cy="595.43" r="1.75" fill="#000000"/>
<g stroke="#000000" stroke-width="0.7" opacity="0.42" fill="none"><path d="M351.98 613.46V615.49"/><path d="M350.78 613.46h2.4M350.78 615.49h2.4"/></g>
<circle cx="351.98" cy="614.47" r="1.75" fill="#000000"/>
<g stroke="#000000" stroke-width="0.7" opacity="0.42" fill="none"><path d="M388.19 616.76V618.79"/><path d="M386.99 616.76h2.4M386.99 618.79h2.4"/></g>
<circle cx="388.19" cy="617.77" r="1.75" fill="#000000"/>
<g stroke="#000000" stroke-width="0.7" opacity="0.42" fill="none"><path d="M424.4 595.51V598.9"/><path d="M423.2 595.51h2.4M423.2 598.9h2.4"/></g>
<circle cx="424.4" cy="597.2" r="1.75" fill="#000000"/>
<g stroke="#000000" stroke-width="0.7" opacity="0.42" fill="none"><path d="M460.61 470.82V480.98"/><path d="M459.41 470.82h2.4M459.41 480.98h2.4"/></g>
<circle cx="460.61" cy="475.9" r="1.75" fill="#000000"/>
<g stroke="#000000" stroke-width="0.7" opacity="0.42" fill="none"><path d="M496.82 457.02V468.03"/><path d="M495.62 457.02h2.4M495.62 468.03h2.4"/></g>
<circle cx="496.82" cy="462.53" r="1.75" fill="#000000"/>
<g stroke="#000000" stroke-width="0.7" opacity="0.42" fill="none"><path d="M533.04 534.9V545.06"/><path d="M531.84 534.9h2.4M531.84 545.06h2.4"/></g>
<circle cx="533.04" cy="539.98" r="1.75" fill="#000000"/>
<polyline points="315.76,592.89 351.98,613.29 388.19,617.77 424.4,600.51 460.61,462.02 496.82,457.36 533.04,532.96" stroke="#ffd700" stroke-width="1.05" stroke-opacity="0.8" fill="none" stroke-linejoin="round"/>
<g stroke="#ffd700" stroke-width="0.7" opacity="0.42" fill="none"><path d="M315.76 591.87V593.9"/><path d="M314.56 591.87h2.4M314.56 593.9h2.4"/></g>
<path d="M315.76 590.69L317.66 594.29H313.86Z" fill="#ffd700" fill-opacity="0.95"/>
<g stroke="#ffd700" stroke-width="0.7" opacity="0.42" fill="none"><path d="M351.98 612.27V614.3"/><path d="M350.78 612.27h2.4M350.78 614.3h2.4"/></g>
<path d="M351.98 611.09L353.88 614.69H350.08Z" fill="#ffd700" fill-opacity="0.95"/>
<g stroke="#ffd700" stroke-width="0.7" opacity="0.42" fill="none"><path d="M388.19 616.76V618.79"/><path d="M386.99 616.76h2.4M386.99 618.79h2.4"/></g>
<path d="M388.19 615.57L390.09 619.17H386.29Z" fill="#ffd700" fill-opacity="0.95"/>
<g stroke="#ffd700" stroke-width="0.7" opacity="0.42" fill="none"><path d="M424.4 598.81V602.2"/><path d="M423.2 598.81h2.4M423.2 602.2h2.4"/></g>
<path d="M424.4 598.31L426.3 601.91H422.5Z" fill="#ffd700" fill-opacity="0.95"/>
<g stroke="#ffd700" stroke-width="0.7" opacity="0.42" fill="none"><path d="M460.61 456.94V467.1"/><path d="M459.41 456.94h2.4M459.41 467.1h2.4"/></g>
<path d="M460.61 459.82L462.51 463.42H458.71Z" fill="#ffd700" fill-opacity="0.95"/>
<g stroke="#ffd700" stroke-width="0.7" opacity="0.42" fill="none"><path d="M496.82 451.86V462.87"/><path d="M495.62 451.86h2.4M495.62 462.87h2.4"/></g>
<path d="M496.82 455.16L498.72 458.76H494.92Z" fill="#ffd700" fill-opacity="0.95"/>
<g stroke="#ffd700" stroke-width="0.7" opacity="0.42" fill="none"><path d="M533.04 527.88V538.03"/><path d="M531.84 527.88h2.4M531.84 538.03h2.4"/></g>
<path d="M533.04 530.76L534.94 534.36H531.14Z" fill="#ffd700" fill-opacity="0.95"/>
<rect x="304.9" y="434.6" width="239" height="194.7" stroke="#a2a2a2" stroke-width="1" fill="none"/>
<text x="302.5" y="607.9" font-size="8.0" text-anchor="end">35</text>
<text x="302.5" y="565.58" font-size="8.0" text-anchor="end">40</text>
<text x="302.5" y="523.25" font-size="8.0" text-anchor="end">45</text>
<text x="302.5" y="480.93" font-size="8.0" text-anchor="end">50</text>
<text x="302.5" y="438.6" font-size="8.0" text-anchor="end">55</text>
<text x="315.76" y="637.7" font-size="8.0" text-anchor="middle">Coastal</text>
<text x="351.98" y="637.7" font-size="8.0" text-anchor="middle">Blue</text>
<text x="388.19" y="637.7" font-size="8.0" text-anchor="middle">Green</text>
<text x="424.4" y="637.7" font-size="8.0" text-anchor="middle">Red</text>
<text x="460.61" y="637.7" font-size="8.0" text-anchor="middle">Nir</text>
<text x="496.82" y="637.7" font-size="8.0" text-anchor="middle">SWIR1</text>
<text x="533.04" y="637.7" font-size="8.0" text-anchor="middle">SWIR2</text>
<path d="M303.1 604.4H304.9M303.1 562.08H304.9M303.1 519.75H304.9M303.1 477.43H304.9M303.1 435.1H304.9M315.76 629.3V631.3M351.98 629.3V631.3M388.19 629.3V631.3M424.4 629.3V631.3M460.61 629.3V631.3M496.82 629.3V631.3M533.04 629.3V631.3" stroke="#a2a2a2" stroke-width="0.8" fill="none"/>
<rect x="314.1" y="440.5" width="76" height="74" rx="1" fill="#fff" stroke="#c4c4c4" stroke-width="0.9"/>
<path d="M317.1 446.3H334.9" stroke="#1f77b4" stroke-width="1.1" stroke-opacity="0.75"/>
<g stroke="#1f77b4" stroke-width="0.7" opacity="0.42" fill="none"><path d="M325.9 442.1V450.5"/><path d="M324.7 442.1h2.4M324.7 450.5h2.4"/></g>
<circle cx="325.9" cy="446.3" r="2.1" fill="#1f77b4"/>
<text x="341.6" y="449.2" font-size="8.5">IFRNet</text>
<path d="M317.1 458.47H334.9" stroke="#ff7f0e" stroke-width="1.1" stroke-opacity="0.75"/>
<g stroke="#ff7f0e" stroke-width="0.7" opacity="0.42" fill="none"><path d="M325.9 454.27V462.67"/><path d="M324.7 454.27h2.4M324.7 462.67h2.4"/></g>
<circle cx="325.9" cy="458.47" r="1.3" fill="#ff7f0e"/>
<text x="341.6" y="461.37" font-size="8.5">Super SloMo</text>
<path d="M317.1 470.64H334.9" stroke="#2ca02c" stroke-width="1.1" stroke-opacity="0.75"/>
<g stroke="#2ca02c" stroke-width="0.7" opacity="0.42" fill="none"><path d="M325.9 466.44V474.84"/><path d="M324.7 466.44h2.4M324.7 474.84h2.4"/></g>
<path d="M324.4 470.64h3M325.9 469.14v3" stroke="#2ca02c" stroke-width="0.8" fill="none"/>
<text x="341.6" y="473.54" font-size="8.5">Unet</text>
<path d="M317.1 482.81H334.9" stroke="#d62728" stroke-width="1.1" stroke-opacity="0.75"/>
<g stroke="#d62728" stroke-width="0.7" opacity="0.42" fill="none"><path d="M325.9 478.61V487.01"/><path d="M324.7 478.61h2.4M324.7 487.01h2.4"/></g>
<circle cx="325.9" cy="482.81" r="1.3" fill="#d62728"/>
<text x="341.6" y="485.71" font-size="8.5">Linear</text>
<path d="M317.1 494.98H334.9" stroke="#000000" stroke-width="1.1" stroke-opacity="0.75"/>
<g stroke="#000000" stroke-width="0.7" opacity="0.42" fill="none"><path d="M325.9 490.78V499.18"/><path d="M324.7 490.78h2.4M324.7 499.18h2.4"/></g>
<circle cx="325.9" cy="494.98" r="1.75" fill="#000000"/>
<text x="341.6" y="497.88" font-size="8.5">True</text>
<path d="M317.1 507.15H334.9" stroke="#ffd700" stroke-width="1.2" stroke-opacity="0.75"/>
<g stroke="#ffd700" stroke-width="0.7" opacity="0.42" fill="none"><path d="M325.9 502.95V511.35"/><path d="M324.7 502.95h2.4M324.7 511.35h2.4"/></g>
<path d="M325.9 504.95L327.8 508.55H324Z" fill="#ffd700" fill-opacity="0.95"/>
<text x="341.6" y="510.05" font-size="8.5">Ours</text>
<text transform="translate(11.7 107) rotate(-90)" font-size="9.2" text-anchor="middle">Time Phase 1</text>
<text transform="translate(11.7 320.6) rotate(-90)" font-size="9.2" text-anchor="middle">Time Phase 2</text>
<text transform="translate(11.7 537.9) rotate(-90)" font-size="9.2" text-anchor="middle">Time Phase 3</text>
<text x="169" y="663.1" font-size="11" text-anchor="middle">(a)</text>
<text x="419.5" y="663.1" font-size="11" text-anchor="middle">(b)</text>
</svg></body></html>
